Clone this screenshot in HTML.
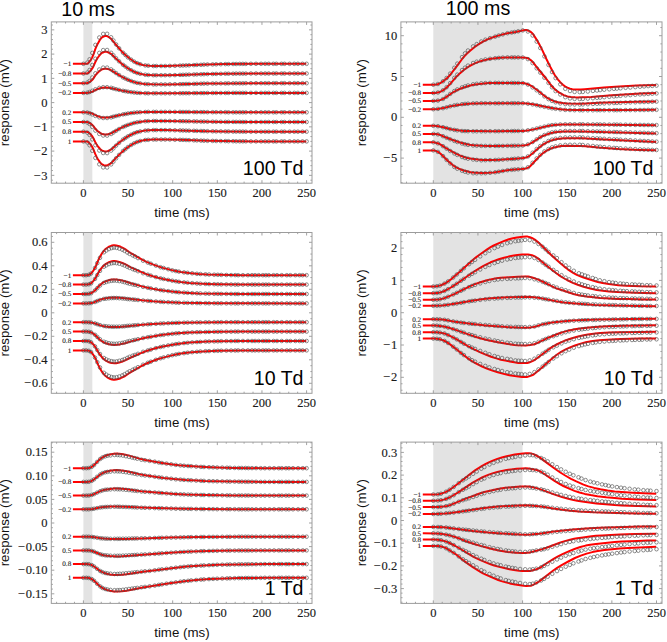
<!DOCTYPE html>
<html><head><meta charset="utf-8"><style>
html,body{margin:0;padding:0;background:#fff;}
svg{display:block;}
.tl{font-family:"Liberation Serif",serif;font-size:12.5px;fill:#1a1a1a;stroke:#1a1a1a;stroke-width:0.15px;}
.al{font-family:"Liberation Sans",sans-serif;font-size:13.3px;fill:#111;}
.yl{font-family:"Liberation Sans",sans-serif;font-size:13.3px;fill:#111;}
.td{font-family:"Liberation Sans",sans-serif;font-size:19.6px;fill:#000;}
.ti{font-family:"Liberation Sans",sans-serif;font-size:19.7px;fill:#000;}
.trl{font-family:"Liberation Serif",serif;font-size:6.9px;text-rendering:geometricPrecision;fill:#2a2a2a;stroke:#2a2a2a;stroke-width:0.12px;}
</style></head><body>
<svg width="667" height="642" viewBox="0 0 667 642">
<defs><marker id="c" markerWidth="6" markerHeight="6" refX="3" refY="3" markerUnits="userSpaceOnUse" overflow="visible"><circle cx="3" cy="3" r="1.8" fill="none" stroke="#505050" stroke-width="0.65"/></marker></defs>
<rect width="667" height="642" fill="#fff"/>
<rect x="83.4" y="21.9" width="8.93" height="161.3" fill="#e3e3e3"/>
<path d="M56.62 183.2v-1.6M56.62 21.9v1.6M65.54 183.2v-1.6M65.54 21.9v1.6M74.47 183.2v-1.6M74.47 21.9v1.6M83.4 183.2v-3M83.4 21.9v3M92.33 183.2v-1.6M92.33 21.9v1.6M101.26 183.2v-1.6M101.26 21.9v1.6M110.18 183.2v-1.6M110.18 21.9v1.6M119.11 183.2v-1.6M119.11 21.9v1.6M128.04 183.2v-3M128.04 21.9v3M136.97 183.2v-1.6M136.97 21.9v1.6M145.9 183.2v-1.6M145.9 21.9v1.6M154.82 183.2v-1.6M154.82 21.9v1.6M163.75 183.2v-1.6M163.75 21.9v1.6M172.68 183.2v-3M172.68 21.9v3M181.61 183.2v-1.6M181.61 21.9v1.6M190.54 183.2v-1.6M190.54 21.9v1.6M199.46 183.2v-1.6M199.46 21.9v1.6M208.39 183.2v-1.6M208.39 21.9v1.6M217.32 183.2v-3M217.32 21.9v3M226.25 183.2v-1.6M226.25 21.9v1.6M235.18 183.2v-1.6M235.18 21.9v1.6M244.1 183.2v-1.6M244.1 21.9v1.6M253.03 183.2v-1.6M253.03 21.9v1.6M261.96 183.2v-3M261.96 21.9v3M270.89 183.2v-1.6M270.89 21.9v1.6M279.82 183.2v-1.6M279.82 21.9v1.6M288.74 183.2v-1.6M288.74 21.9v1.6M297.67 183.2v-1.6M297.67 21.9v1.6M306.6 183.2v-3M306.6 21.9v3M51.3 180.2h1.6M312 180.2h-1.6M51.3 175.35h3M312 175.35h-3M51.3 170.5h1.6M312 170.5h-1.6M51.3 165.65h1.6M312 165.65h-1.6M51.3 160.8h1.6M312 160.8h-1.6M51.3 155.95h1.6M312 155.95h-1.6M51.3 151.1h3M312 151.1h-3M51.3 146.25h1.6M312 146.25h-1.6M51.3 141.4h1.6M312 141.4h-1.6M51.3 136.55h1.6M312 136.55h-1.6M51.3 131.7h1.6M312 131.7h-1.6M51.3 126.85h3M312 126.85h-3M51.3 122h1.6M312 122h-1.6M51.3 117.15h1.6M312 117.15h-1.6M51.3 112.3h1.6M312 112.3h-1.6M51.3 107.45h1.6M312 107.45h-1.6M51.3 102.6h3M312 102.6h-3M51.3 97.75h1.6M312 97.75h-1.6M51.3 92.9h1.6M312 92.9h-1.6M51.3 88.05h1.6M312 88.05h-1.6M51.3 83.2h1.6M312 83.2h-1.6M51.3 78.35h3M312 78.35h-3M51.3 73.5h1.6M312 73.5h-1.6M51.3 68.65h1.6M312 68.65h-1.6M51.3 63.8h1.6M312 63.8h-1.6M51.3 58.95h1.6M312 58.95h-1.6M51.3 54.1h3M312 54.1h-3M51.3 49.25h1.6M312 49.25h-1.6M51.3 44.4h1.6M312 44.4h-1.6M51.3 39.55h1.6M312 39.55h-1.6M51.3 34.7h1.6M312 34.7h-1.6M51.3 29.85h3M312 29.85h-3M51.3 25h1.6M312 25h-1.6" stroke="#8a8a8a" stroke-width="0.8" fill="none"/>
<rect x="51.3" y="21.9" width="260.7" height="161.3" fill="none" stroke="#9c9c9c" stroke-width="1"/>
<text x="47.6" y="179.5" class="tl" text-anchor="end">−<tspan dx="0.9">3</tspan></text>
<text x="47.6" y="155.25" class="tl" text-anchor="end">−<tspan dx="0.9">2</tspan></text>
<text x="47.6" y="131" class="tl" text-anchor="end">−<tspan dx="0.9">1</tspan></text>
<text x="47.6" y="106.75" class="tl" text-anchor="end">0</text>
<text x="47.6" y="82.5" class="tl" text-anchor="end">1</text>
<text x="47.6" y="58.25" class="tl" text-anchor="end">2</text>
<text x="47.6" y="34" class="tl" text-anchor="end">3</text>
<text x="83.4" y="197.2" class="tl" text-anchor="middle">0</text>
<text x="128.04" y="197.2" class="tl" text-anchor="middle">50</text>
<text x="172.68" y="197.2" class="tl" text-anchor="middle">100</text>
<text x="217.32" y="197.2" class="tl" text-anchor="middle">150</text>
<text x="261.96" y="197.2" class="tl" text-anchor="middle">200</text>
<text x="306.6" y="197.2" class="tl" text-anchor="middle">250</text>
<text x="181.9" y="217.2" class="al" text-anchor="middle">time (ms)</text>
<text transform="translate(8.9 102.55) rotate(-90)" class="yl" text-anchor="middle">response (mV)</text>
<text x="303.5" y="174.9" class="td" text-anchor="end">100 Td</text>
<g fill="none" stroke="#ff0000" stroke-width="2" stroke-linejoin="round"><path d="M72.9 63.8L86.3 63.8L87.6 63.6L88 63.3L88.9 62.4L90.3 60.7L91.2 59.3L92.1 57.6L93.4 54.7L95.2 49.4L96.5 46.2L97.9 43.4L100.1 39.6L101.4 37.9L102.3 37.2L103.7 36.5L104.6 36.1L105.9 35.9L106.8 36.1L108.1 36.7L110.4 38.3L111.3 39.1L112.6 40.6L115.3 44L121.5 51.2L126 55.5L129.6 58.5L133.6 61.3L135.4 62.3L136.7 63L141.2 64.5L142.9 65L144.7 65.3L149.2 65.8L152.8 66L165.7 66L180 65.6L206.8 64.5L224.2 64.1L255.4 63.8L306.3 63.8"/><path d="M72.9 73.5L86.3 73.5L87.6 73.3L88 73.1L88.9 72.4L90.3 71.1L92.1 68.7L93.4 66.4L95.2 62.3L96.5 59.7L97.9 57.5L100.1 54.6L101.4 53.2L102.3 52.7L104.6 51.8L105.9 51.7L106.8 51.8L108.1 52.3L110.4 53.5L111.3 54.1L112.6 55.3L115.3 58L121.5 63.6L126 67L129.6 69.4L133.6 71.5L136.7 72.8L141.2 74.1L144.7 74.7L149.2 75L152.8 75.2L165.7 75.2L180 74.9L206.8 74.1L224.2 73.7L255.4 73.5L306.3 73.5"/><path d="M72.9 83.2L86.3 83.2L87.6 83.1L88 83L88.9 82.5L90.3 81.6L92.1 80L93.4 78.5L95.2 75.7L96.5 74L97.9 72.5L100.1 70.6L101.4 69.7L102.3 69.3L104.6 68.8L105.9 68.7L106.8 68.7L108.1 69.1L110.4 69.9L111.3 70.3L115.3 72.9L121.5 76.6L126 78.9L129.6 80.5L133.6 81.9L136.7 82.8L141.2 83.6L144.7 84L152.8 84.3L165.7 84.4L180 84.2L206.8 83.6L224.2 83.4L255.4 83.2L306.3 83.2"/><path d="M72.9 92.9L86.3 92.9L88 92.8L90.3 92.3L92.1 91.7L93.4 91.2L95.2 90.2L96.5 89.5L97.9 89L100.1 88.3L102.3 87.8L105.9 87.6L108.1 87.7L111.3 88.2L121.5 90.5L129.6 91.9L136.7 92.7L144.7 93.2L152.8 93.3L165.7 93.3L224.2 93L306.3 92.9"/><path d="M72.9 112.3L86.3 112.3L88 112.4L90.3 112.9L92.1 113.5L93.4 114L95.2 115L96.5 115.7L97.9 116.2L100.1 116.9L102.3 117.4L105.9 117.6L108.1 117.5L111.3 117L121.5 114.7L129.6 113.3L136.7 112.5L144.7 112L152.8 111.9L165.7 111.9L224.2 112.2L306.3 112.3"/><path d="M72.9 122L86.3 122L87.6 122.1L88 122.2L90.3 123.4L92.1 124.8L93.4 126.1L95.2 128.5L96.5 130L97.9 131.2L100.1 132.9L101.4 133.7L102.3 134L104.6 134.5L105.9 134.6L106.8 134.5L108.1 134.2L111.3 133.2L115.3 131L121.5 127.7L126 125.7L129.6 124.4L133.6 123.1L136.7 122.4L141.2 121.7L144.7 121.3L152.8 121L165.7 121L224.2 121.9L255.4 122L306.3 122"/><path d="M72.9 131.7L86.3 131.7L87.6 131.9L88 132L88.9 132.7L90.3 133.9L92.1 136.1L93.4 138.2L95.2 141.9L96.5 144.3L97.9 146.3L100.1 149L101.4 150.2L102.3 150.7L104.6 151.4L105.9 151.6L106.8 151.4L108.1 151L110.4 149.9L111.3 149.3L112.6 148.3L115.3 145.8L121.5 140.7L126 137.6L129.6 135.4L133.6 133.5L136.7 132.3L141.2 131.2L144.7 130.6L152.8 130.1L165.7 130.1L180 130.4L206.8 131.2L224.2 131.5L255.4 131.7L306.3 131.7"/><path d="M72.9 141.4L86.3 141.4L87.6 141.6L88 141.8L88.9 142.6L90.3 144.1L91.2 145.3L92.1 146.8L93.4 149.3L95.2 153.9L96.5 156.7L97.9 159.2L100.1 162.4L101.4 163.9L102.3 164.5L103.7 165.2L104.6 165.5L105.9 165.6L106.8 165.5L108.1 164.9L110.4 163.6L111.3 162.9L112.6 161.6L115.3 158.6L121.5 152.4L126 148.6L129.6 146L133.6 143.6L136.7 142.1L141.2 140.8L142.9 140.4L144.7 140.1L149.2 139.7L152.8 139.5L165.7 139.5L180 139.8L206.8 140.8L224.2 141.1L255.4 141.4L306.3 141.4"/></g>
<g fill="none" stroke="none" marker-start="url(#c)" marker-mid="url(#c)" marker-end="url(#c)"><path d="M83.4 63.8L87.3 62.6L89.6 59.3L92.3 52.9L95.4 44.9L99.3 37.5L103.2 33.9L107.1 33.8L111.1 37.3L113.4 40.5L116.1 44.4L119.1 48.3L123 52.7L125.4 55L128 57.4L131.1 59.6L134.1 61.6L137.1 63.1L140.2 64.2L145.3 65.4L148.3 65.7L153.4 66L156.4 66L161.1 66L165.2 66L169.8 65.9L174.9 65.8L180 65.6L183 65.5L186.1 65.4L189.1 65.3L193.8 65.1L196.8 64.9L200.9 64.8L203.9 64.6L207.5 64.5L212.6 64.4L216.2 64.3L220.8 64.2L225.4 64.1L228.5 64.1L233.1 64L236.2 64L239.7 63.9L242.8 63.9L245.8 63.9L250.9 63.8L256 63.8L261.1 63.8L265.2 63.8L268.7 63.8L273.4 63.8L276.4 63.8L281.5 63.8L284.5 63.8L289.6 63.8L294.3 63.8L297.9 63.8L302.5 63.8L306.6 63.8"/><path d="M83.4 73.5L87.3 72.6L89.6 70L92.3 65L95.4 58.7L99.3 52.9L103.2 50.1L107.1 50L111.1 52.8L113.4 55.3L116.1 58.3L119.1 61.3L123 64.8L125.4 66.6L128 68.5L131.1 70.2L134.1 71.8L137.1 73L140.2 73.8L145.3 74.7L148.3 75L153.4 75.2L156.4 75.2L161.1 75.2L165.2 75.2L169.8 75.2L174.9 75.1L180 74.9L183 74.8L186.1 74.7L189.1 74.6L193.8 74.5L196.8 74.4L200.9 74.3L203.9 74.2L207.5 74.1L212.6 74L216.2 73.9L220.8 73.8L225.4 73.7L228.5 73.7L233.1 73.7L236.2 73.6L239.7 73.6L242.8 73.6L245.8 73.6L250.9 73.5L256 73.5L261.1 73.5L265.2 73.5L268.7 73.5L273.4 73.5L276.4 73.5L281.5 73.5L284.5 73.5L289.6 73.5L294.3 73.5L297.9 73.5L302.5 73.5L306.6 73.5"/><path d="M83.4 83.2L87.3 82.6L89.6 80.9L92.3 77.5L95.4 73.3L99.3 69.5L103.2 67.6L107.1 67.6L111.1 69.4L113.4 71.1L116.1 73.1L119.1 75.1L123 77.4L125.4 78.6L128 79.8L131.1 81L134.1 82.1L137.1 82.9L140.2 83.4L145.3 84L148.3 84.2L153.4 84.4L156.4 84.4L161.1 84.4L165.2 84.4L169.8 84.3L174.9 84.2L180 84.2L183 84.1L186.1 84L189.1 84L193.8 83.9L196.8 83.8L200.9 83.7L203.9 83.6L207.5 83.6L212.6 83.5L216.2 83.5L220.8 83.4L225.4 83.4L228.5 83.3L233.1 83.3L236.2 83.3L239.7 83.3L242.8 83.3L245.8 83.2L250.9 83.2L256 83.2L261.1 83.2L265.2 83.2L268.7 83.2L273.4 83.2L276.4 83.2L281.5 83.2L284.5 83.2L289.6 83.2L294.3 83.2L297.9 83.2L302.5 83.2L306.6 83.2"/><path d="M83.4 92.9L87.3 92.7L89.6 92L92.3 90.8L95.4 89.3L99.3 87.9L103.2 87.2L107.1 87.2L111.1 87.8L113.4 88.5L116.1 89.2L119.1 89.9L123 90.8L125.4 91.2L128 91.7L131.1 92.1L134.1 92.5L137.1 92.8L140.2 93L145.3 93.2L148.3 93.3L153.4 93.3L156.4 93.3L161.1 93.3L165.2 93.3L169.8 93.3L174.9 93.3L180 93.3L183 93.2L186.1 93.2L189.1 93.2L193.8 93.1L196.8 93.1L200.9 93.1L203.9 93.1L207.5 93L212.6 93L216.2 93L220.8 93L225.4 93L228.5 92.9L233.1 92.9L236.2 92.9L239.7 92.9L242.8 92.9L245.8 92.9L250.9 92.9L256 92.9L261.1 92.9L265.2 92.9L268.7 92.9L273.4 92.9L276.4 92.9L281.5 92.9L284.5 92.9L289.6 92.9L294.3 92.9L297.9 92.9L302.5 92.9L306.6 92.9"/><path d="M83.4 112.3L87.3 112.5L89.6 113.2L92.3 114.4L95.4 115.9L99.3 117.3L103.2 118L107.1 118L111.1 117.4L113.4 116.7L116.1 116L119.1 115.3L123 114.4L125.4 114L128 113.5L131.1 113.1L134.1 112.7L137.1 112.4L140.2 112.2L145.3 112L148.3 111.9L153.4 111.9L156.4 111.9L161.1 111.9L165.2 111.9L169.8 111.9L174.9 111.9L180 111.9L183 112L186.1 112L189.1 112L193.8 112.1L196.8 112.1L200.9 112.1L203.9 112.1L207.5 112.2L212.6 112.2L216.2 112.2L220.8 112.2L225.4 112.2L228.5 112.3L233.1 112.3L236.2 112.3L239.7 112.3L242.8 112.3L245.8 112.3L250.9 112.3L256 112.3L261.1 112.3L265.2 112.3L268.7 112.3L273.4 112.3L276.4 112.3L281.5 112.3L284.5 112.3L289.6 112.3L294.3 112.3L297.9 112.3L302.5 112.3L306.6 112.3"/><path d="M83.4 122L87.3 122.5L89.6 124L92.3 126.9L95.4 130.6L99.3 133.9L103.2 135.5L107.1 135.6L111.1 134L113.4 132.5L116.1 130.8L119.1 129L123 127L125.4 126L128 124.9L131.1 123.9L134.1 123L137.1 122.3L140.2 121.8L145.3 121.3L148.3 121.1L153.4 121L156.4 121L161.1 121L165.2 121L169.8 121L174.9 121.1L180 121.2L183 121.2L186.1 121.3L189.1 121.3L193.8 121.4L196.8 121.5L200.9 121.6L203.9 121.6L207.5 121.7L212.6 121.7L216.2 121.8L220.8 121.8L225.4 121.9L228.5 121.9L233.1 121.9L236.2 121.9L239.7 121.9L242.8 122L245.8 122L250.9 122L256 122L261.1 122L265.2 122L268.7 122L273.4 122L276.4 122L281.5 122L284.5 122L289.6 122L294.3 122L297.9 122L302.5 122L306.6 122"/><path d="M83.4 131.7L87.3 132.6L89.6 134.9L92.3 139.4L95.4 145.2L99.3 150.5L103.2 153L107.1 153.1L111.1 150.6L113.4 148.3L116.1 145.6L119.1 142.8L123 139.6L125.4 138L128 136.3L131.1 134.7L134.1 133.3L137.1 132.2L140.2 131.4L145.3 130.6L148.3 130.4L153.4 130.1L156.4 130.1L161.1 130.1L165.2 130.1L169.8 130.2L174.9 130.3L180 130.4L183 130.5L186.1 130.6L189.1 130.7L193.8 130.8L196.8 130.9L200.9 131L203.9 131.1L207.5 131.2L212.6 131.3L216.2 131.4L220.8 131.4L225.4 131.5L228.5 131.5L233.1 131.6L236.2 131.6L239.7 131.6L242.8 131.6L245.8 131.7L250.9 131.7L256 131.7L261.1 131.7L265.2 131.7L268.7 131.7L273.4 131.7L276.4 131.7L281.5 131.7L284.5 131.7L289.6 131.7L294.3 131.7L297.9 131.7L302.5 131.7L306.6 131.7"/><path d="M83.4 141.4L87.3 142.4L89.6 145.3L92.3 150.8L95.4 157.9L99.3 164.3L103.2 167.4L107.1 167.5L111.1 164.4L113.4 161.6L116.1 158.3L119.1 154.9L123 151L125.4 149.1L128 147L131.1 145L134.1 143.3L137.1 142L140.2 141L145.3 140L148.3 139.8L153.4 139.5L156.4 139.5L161.1 139.5L165.2 139.5L169.8 139.5L174.9 139.7L180 139.8L183 139.9L186.1 140L189.1 140.1L193.8 140.3L196.8 140.4L200.9 140.6L203.9 140.7L207.5 140.8L212.6 140.9L216.2 141L220.8 141.1L225.4 141.1L228.5 141.2L233.1 141.2L236.2 141.3L239.7 141.3L242.8 141.3L245.8 141.3L250.9 141.4L256 141.4L261.1 141.4L265.2 141.4L268.7 141.4L273.4 141.4L276.4 141.4L281.5 141.4L284.5 141.4L289.6 141.4L294.3 141.4L297.9 141.4L302.5 141.4L306.6 141.4"/></g>
<text transform="translate(71.26 66.2) scale(1.04 1)" class="trl" text-anchor="end">−1</text>
<text transform="translate(71.26 75.9) scale(1.04 1)" class="trl" text-anchor="end">−0.8</text>
<text transform="translate(71.26 85.6) scale(1.04 1)" class="trl" text-anchor="end">−0.5</text>
<text transform="translate(71.26 95.3) scale(1.04 1)" class="trl" text-anchor="end">−0.2</text>
<text transform="translate(71.26 114.7) scale(1.04 1)" class="trl" text-anchor="end">0.2</text>
<text transform="translate(71.26 124.4) scale(1.04 1)" class="trl" text-anchor="end">0.5</text>
<text transform="translate(71.26 134.1) scale(1.04 1)" class="trl" text-anchor="end">0.8</text>
<text transform="translate(71.26 143.8) scale(1.04 1)" class="trl" text-anchor="end">1</text>
<rect x="83.4" y="232.5" width="8.93" height="160.8" fill="#e3e3e3"/>
<path d="M56.62 393.3v-1.6M56.62 232.5v1.6M65.54 393.3v-1.6M65.54 232.5v1.6M74.47 393.3v-1.6M74.47 232.5v1.6M83.4 393.3v-3M83.4 232.5v3M92.33 393.3v-1.6M92.33 232.5v1.6M101.26 393.3v-1.6M101.26 232.5v1.6M110.18 393.3v-1.6M110.18 232.5v1.6M119.11 393.3v-1.6M119.11 232.5v1.6M128.04 393.3v-3M128.04 232.5v3M136.97 393.3v-1.6M136.97 232.5v1.6M145.9 393.3v-1.6M145.9 232.5v1.6M154.82 393.3v-1.6M154.82 232.5v1.6M163.75 393.3v-1.6M163.75 232.5v1.6M172.68 393.3v-3M172.68 232.5v3M181.61 393.3v-1.6M181.61 232.5v1.6M190.54 393.3v-1.6M190.54 232.5v1.6M199.46 393.3v-1.6M199.46 232.5v1.6M208.39 393.3v-1.6M208.39 232.5v1.6M217.32 393.3v-3M217.32 232.5v3M226.25 393.3v-1.6M226.25 232.5v1.6M235.18 393.3v-1.6M235.18 232.5v1.6M244.1 393.3v-1.6M244.1 232.5v1.6M253.03 393.3v-1.6M253.03 232.5v1.6M261.96 393.3v-3M261.96 232.5v3M270.89 393.3v-1.6M270.89 232.5v1.6M279.82 393.3v-1.6M279.82 232.5v1.6M288.74 393.3v-1.6M288.74 232.5v1.6M297.67 393.3v-1.6M297.67 232.5v1.6M306.6 393.3v-3M306.6 232.5v3M51.3 389.18h1.6M312 389.18h-1.6M51.3 383.3h3M312 383.3h-3M51.3 377.43h1.6M312 377.43h-1.6M51.3 371.55h1.6M312 371.55h-1.6M51.3 365.68h1.6M312 365.68h-1.6M51.3 359.8h3M312 359.8h-3M51.3 353.93h1.6M312 353.93h-1.6M51.3 348.05h1.6M312 348.05h-1.6M51.3 342.18h1.6M312 342.18h-1.6M51.3 336.3h3M312 336.3h-3M51.3 330.43h1.6M312 330.43h-1.6M51.3 324.55h1.6M312 324.55h-1.6M51.3 318.68h1.6M312 318.68h-1.6M51.3 312.8h3M312 312.8h-3M51.3 306.93h1.6M312 306.93h-1.6M51.3 301.05h1.6M312 301.05h-1.6M51.3 295.18h1.6M312 295.18h-1.6M51.3 289.3h3M312 289.3h-3M51.3 283.43h1.6M312 283.43h-1.6M51.3 277.55h1.6M312 277.55h-1.6M51.3 271.68h1.6M312 271.68h-1.6M51.3 265.8h3M312 265.8h-3M51.3 259.93h1.6M312 259.93h-1.6M51.3 254.05h1.6M312 254.05h-1.6M51.3 248.18h1.6M312 248.18h-1.6M51.3 242.3h3M312 242.3h-3M51.3 236.43h1.6M312 236.43h-1.6" stroke="#8a8a8a" stroke-width="0.8" fill="none"/>
<rect x="51.3" y="232.5" width="260.7" height="160.8" fill="none" stroke="#9c9c9c" stroke-width="1"/>
<text x="47.6" y="387.45" class="tl" text-anchor="end">−<tspan dx="0.9">0.6</tspan></text>
<text x="47.6" y="363.95" class="tl" text-anchor="end">−<tspan dx="0.9">0.4</tspan></text>
<text x="47.6" y="340.45" class="tl" text-anchor="end">−<tspan dx="0.9">0.2</tspan></text>
<text x="47.6" y="316.95" class="tl" text-anchor="end">0</text>
<text x="47.6" y="293.45" class="tl" text-anchor="end">0.2</text>
<text x="47.6" y="269.95" class="tl" text-anchor="end">0.4</text>
<text x="47.6" y="246.45" class="tl" text-anchor="end">0.6</text>
<text x="83.4" y="407.3" class="tl" text-anchor="middle">0</text>
<text x="128.04" y="407.3" class="tl" text-anchor="middle">50</text>
<text x="172.68" y="407.3" class="tl" text-anchor="middle">100</text>
<text x="217.32" y="407.3" class="tl" text-anchor="middle">150</text>
<text x="261.96" y="407.3" class="tl" text-anchor="middle">200</text>
<text x="306.6" y="407.3" class="tl" text-anchor="middle">250</text>
<text x="181.9" y="427.3" class="al" text-anchor="middle">time (ms)</text>
<text transform="translate(8.9 312.9) rotate(-90)" class="yl" text-anchor="middle">response (mV)</text>
<text x="303.5" y="385" class="td" text-anchor="end">10 Td</text>
<g fill="none" stroke="#ff0000" stroke-width="2" stroke-linejoin="round"><path d="M72.9 275.2L87.1 275.2L88.9 274.8L89.8 274.4L90.7 273.8L92.1 272.4L93.4 270.5L94.3 269.1L96.1 265.5L98.3 260.2L99.6 257.4L101.9 253.5L103.7 251L105 249.6L105.9 248.8L107.7 247.5L109 246.7L110.4 246.1L112.1 245.5L113.5 245.3L114.4 245.2L116.2 245.5L119.3 246.3L120.6 246.8L122.4 247.6L125.1 249.1L129.1 252L130.9 253.1L142.1 259.6L146.5 261.8L152.8 264.4L158.1 266.4L163 267.9L173.8 270.6L176.9 271.2L180.9 271.9L188.9 273L198.7 273.9L207.2 274.4L218.4 274.8L241.6 275.2L306.3 275.2"/><path d="M72.9 284.6L87.1 284.6L88.9 284.3L89.8 283.9L90.7 283.5L92.1 282.4L93.4 280.9L94.3 279.8L96.1 277L98.3 272.8L99.6 270.7L101.9 267.6L103.7 265.6L105.9 263.9L107.7 262.9L109 262.2L110.4 261.8L112.1 261.3L113.5 261.1L114.4 261.1L116.2 261.3L119.3 262L122.4 263L125.1 264.2L129.1 266.4L130.9 267.3L142.1 272.4L146.5 274.1L152.8 276.2L158.1 277.7L163 278.9L173.8 281L180.9 282L188.9 282.9L198.7 283.6L207.2 284L218.4 284.3L241.6 284.6L306.3 284.6"/><path d="M72.9 294L87.1 294L88.9 293.8L90.7 293.3L92.1 292.6L94.3 291L96.1 289.3L98.3 286.7L99.6 285.4L101.9 283.4L103.7 282.2L105.9 281.2L109 280.1L112.1 279.6L114.4 279.4L116.2 279.5L119.3 280L122.4 280.6L125.1 281.3L130.9 283.2L142.1 286.4L146.5 287.5L152.8 288.8L158.1 289.7L163 290.4L173.8 291.8L180.9 292.4L188.9 292.9L198.7 293.4L218.4 293.8L241.6 294L306.3 294"/><path d="M72.9 303.4L87.1 303.4L90.7 303.1L92.1 302.9L94.3 302.2L99.6 299.9L101.9 299.1L103.7 298.7L105.9 298.2L109 297.8L114.4 297.5L119.3 297.7L122.4 298L142.1 300.3L152.8 301.3L163 302L180.9 302.8L198.7 303.1L218.4 303.3L306.3 303.4"/><path d="M72.9 322.2L87.1 322.2L90.7 322.4L92.1 322.7L94.3 323.2L99.6 325.1L101.9 325.8L103.7 326.2L105.9 326.6L109 326.9L114.4 327.1L119.3 327L122.4 326.7L142.1 324.8L152.8 324L163 323.4L180.9 322.7L198.7 322.4L218.4 322.3L306.3 322.2"/><path d="M72.9 331.6L87.1 331.6L88.9 331.8L90.7 332.2L92.1 332.8L94.3 334.3L96.1 335.9L98.3 338.3L99.6 339.5L101.9 341.2L103.7 342.3L105.9 343.3L109 344.2L112.1 344.7L114.4 344.9L116.2 344.8L119.3 344.4L122.4 343.8L125.1 343.2L130.9 341.4L142.1 338.5L146.5 337.5L152.8 336.4L158.1 335.5L163 334.8L173.8 333.6L180.9 333.1L188.9 332.6L198.7 332.2L218.4 331.8L241.6 331.6L306.3 331.6"/><path d="M72.9 341L87.1 341L88.9 341.3L89.8 341.6L90.7 342.1L92.1 343.1L93.4 344.5L94.3 345.6L96.1 348.2L98.3 352.2L99.6 354.2L101.9 357.2L103.7 359L105.9 360.7L109 362.3L110.4 362.7L112.1 363.1L114.4 363.3L116.2 363.2L119.3 362.5L122.4 361.5L125.1 360.4L130.9 357.5L142.1 352.6L146.5 351L152.8 349L158.1 347.5L163 346.4L173.8 344.4L180.9 343.4L188.9 342.6L198.7 342L207.2 341.6L218.4 341.3L241.6 341L306.3 341"/><path d="M72.9 350.4L87.1 350.4L88.9 350.8L89.8 351.2L90.7 351.8L92.1 353.1L93.4 355L94.3 356.4L96.1 359.9L98.3 365.1L99.6 367.8L101.9 371.7L103.7 374.1L105 375.5L105.9 376.3L107.7 377.6L109 378.4L110.4 379L112.1 379.5L113.5 379.7L114.4 379.8L116.2 379.5L119.3 378.7L120.6 378.2L122.4 377.4L125.1 376L129.1 373.2L130.9 372.1L142.1 365.7L146.5 363.5L152.8 361L158.1 359L163 357.6L173.8 354.9L176.9 354.3L180.9 353.6L188.9 352.6L198.7 351.7L207.2 351.2L218.4 350.8L241.6 350.4L306.3 350.4"/></g>
<g fill="none" stroke="none" marker-start="url(#c)" marker-mid="url(#c)" marker-end="url(#c)"><path d="M83.4 275.2L86.1 275.2L88.8 274.8L91.1 273.5L95 267.9L97.3 263.1L100 257.8L103.9 252.3L106.3 250.5L108.9 249.1L111.6 248.1L113.9 247.6L116.6 247.9L119.3 248.6L122.3 249.7L124.6 250.9L127.3 252.5L129.6 253.9L132.7 255.4L135 256.5L138 258.1L143.1 260.7L147.8 262.6L150.8 263.7L155.9 265.6L160.5 267.2L163.6 268L168.2 269.2L172.3 270.3L175.9 271.1L178.9 271.6L184 272.4L187.6 272.8L192.2 273.3L196.9 273.8L200.4 274L205.5 274.3L209.1 274.5L214.2 274.7L217.8 274.8L221.3 274.9L226.4 275L231.1 275.1L235.2 275.1L238.2 275.2L242.9 275.2L247.9 275.2L252 275.2L255.1 275.2L258.7 275.2L262.8 275.2L265.8 275.2L268.8 275.2L273.5 275.2L277 275.2L281.7 275.2L286.8 275.2L290.4 275.2L295.4 275.2L299.5 275.2L302.6 275.2L306.6 275.2"/><path d="M83.4 284.6L86.1 284.6L88.8 284.3L91.1 283.3L95 278.9L97.3 275.1L100 270.9L103.9 266.7L106.3 265.3L108.9 264.1L111.6 263.3L113.9 263L116.6 263.2L119.3 263.7L122.3 264.6L124.6 265.5L127.3 266.8L129.6 267.9L132.7 269.1L135 270L138 271.2L143.1 273.2L147.8 274.7L150.8 275.6L155.9 277.1L160.5 278.3L163.6 279L168.2 279.9L172.3 280.7L175.9 281.3L178.9 281.8L184 282.4L187.6 282.7L192.2 283.1L196.9 283.5L200.4 283.7L205.5 283.9L209.1 284.1L214.2 284.2L217.8 284.3L221.3 284.4L226.4 284.4L231.1 284.5L235.2 284.6L238.2 284.6L242.9 284.6L247.9 284.6L252 284.6L255.1 284.6L258.7 284.6L262.8 284.6L265.8 284.6L268.8 284.6L273.5 284.6L277 284.6L281.7 284.6L286.8 284.6L290.4 284.6L295.4 284.6L299.5 284.6L302.6 284.6L306.6 284.6"/><path d="M83.4 294L86.1 294L88.8 293.8L91.1 293.2L95 290.4L97.3 288.1L100 285.5L103.9 282.9L106.3 282L108.9 281.3L111.6 280.8L113.9 280.6L116.6 280.7L119.3 281.1L122.3 281.6L124.6 282.2L127.3 283L129.6 283.7L132.7 284.4L135 284.9L138 285.7L143.1 286.9L147.8 287.8L150.8 288.4L155.9 289.3L160.5 290.1L163.6 290.5L168.2 291.1L172.3 291.6L175.9 292L178.9 292.3L184 292.6L187.6 292.8L192.2 293.1L196.9 293.3L200.4 293.4L205.5 293.6L209.1 293.7L214.2 293.8L217.8 293.8L221.3 293.9L226.4 293.9L231.1 293.9L235.2 294L238.2 294L242.9 294L247.9 294L252 294L255.1 294L258.7 294L262.8 294L265.8 294L268.8 294L273.5 294L277 294L281.7 294L286.8 294L290.4 294L295.4 294L299.5 294L302.6 294L306.6 294"/><path d="M83.4 303.4L86.1 303.4L88.8 303.3L91.1 303.1L95 302L97.3 301L100 300L103.9 298.9L106.3 298.6L108.9 298.3L111.6 298.1L113.9 298L116.6 298L119.3 298.2L122.3 298.4L124.6 298.6L127.3 299L129.6 299.2L132.7 299.5L135 299.7L138 300L143.1 300.5L147.8 300.9L150.8 301.1L155.9 301.5L160.5 301.8L163.6 302L168.2 302.2L172.3 302.4L175.9 302.6L178.9 302.7L184 302.8L187.6 302.9L192.2 303L196.9 303.1L200.4 303.2L205.5 303.2L209.1 303.3L214.2 303.3L217.8 303.3L221.3 303.3L226.4 303.4L231.1 303.4L235.2 303.4L238.2 303.4L242.9 303.4L247.9 303.4L252 303.4L255.1 303.4L258.7 303.4L262.8 303.4L265.8 303.4L268.8 303.4L273.5 303.4L277 303.4L281.7 303.4L286.8 303.4L290.4 303.4L295.4 303.4L299.5 303.4L302.6 303.4L306.6 303.4"/><path d="M83.4 322.2L86.1 322.2L88.8 322.3L91.1 322.5L95 323.4L97.3 324.2L100 325.1L103.9 326L106.3 326.3L108.9 326.5L111.6 326.7L113.9 326.7L116.6 326.7L119.3 326.6L122.3 326.4L124.6 326.2L127.3 325.9L129.6 325.7L132.7 325.5L135 325.3L138 325L143.1 324.6L147.8 324.3L150.8 324.1L155.9 323.8L160.5 323.5L163.6 323.4L168.2 323.2L172.3 323L175.9 322.9L178.9 322.8L184 322.7L187.6 322.6L192.2 322.5L196.9 322.4L200.4 322.4L205.5 322.3L209.1 322.3L214.2 322.3L217.8 322.3L221.3 322.2L226.4 322.2L231.1 322.2L235.2 322.2L238.2 322.2L242.9 322.2L247.9 322.2L252 322.2L255.1 322.2L258.7 322.2L262.8 322.2L265.8 322.2L268.8 322.2L273.5 322.2L277 322.2L281.7 322.2L286.8 322.2L290.4 322.2L295.4 322.2L299.5 322.2L302.6 322.2L306.6 322.2"/><path d="M83.4 331.6L86.1 331.6L88.8 331.8L91.1 332.4L95 334.8L97.3 337L100 339.3L103.9 341.7L106.3 342.5L108.9 343.2L111.6 343.6L113.9 343.8L116.6 343.7L119.3 343.4L122.3 342.9L124.6 342.4L127.3 341.6L129.6 341L132.7 340.4L135 339.9L138 339.2L143.1 338L147.8 337.2L150.8 336.7L155.9 335.8L160.5 335.1L163.6 334.8L168.2 334.2L172.3 333.8L175.9 333.4L178.9 333.2L184 332.9L187.6 332.6L192.2 332.4L196.9 332.2L200.4 332.1L205.5 332L209.1 331.9L214.2 331.8L217.8 331.8L221.3 331.7L226.4 331.7L231.1 331.7L235.2 331.6L238.2 331.6L242.9 331.6L247.9 331.6L252 331.6L255.1 331.6L258.7 331.6L262.8 331.6L265.8 331.6L268.8 331.6L273.5 331.6L277 331.6L281.7 331.6L286.8 331.6L290.4 331.6L295.4 331.6L299.5 331.6L302.6 331.6L306.6 331.6"/><path d="M83.4 341L86.1 341L88.8 341.3L91.1 342.3L95 346.4L97.3 350L100 354L103.9 358L106.3 359.4L108.9 360.5L111.6 361.2L113.9 361.6L116.6 361.4L119.3 360.8L122.3 360L124.6 359.1L127.3 357.9L129.6 356.8L132.7 355.7L135 354.9L138 353.8L143.1 351.8L147.8 350.4L150.8 349.6L155.9 348.1L160.5 347L163.6 346.3L168.2 345.4L172.3 344.7L175.9 344.1L178.9 343.7L184 343.1L187.6 342.8L192.2 342.4L196.9 342.1L200.4 341.9L205.5 341.6L209.1 341.5L214.2 341.4L217.8 341.3L221.3 341.2L226.4 341.1L231.1 341.1L235.2 341L238.2 341L242.9 341L247.9 341L252 341L255.1 341L258.7 341L262.8 341L265.8 341L268.8 341L273.5 341L277 341L281.7 341L286.8 341L290.4 341L295.4 341L299.5 341L302.6 341L306.6 341"/><path d="M83.4 350.4L86.1 350.4L88.8 350.8L91.1 352.1L95 357.6L97.3 362.2L100 367.5L103.9 372.8L106.3 374.6L108.9 376L111.6 377L113.9 377.4L116.6 377.2L119.3 376.5L122.3 375.4L124.6 374.2L127.3 372.6L129.6 371.3L132.7 369.8L135 368.7L138 367.2L143.1 364.7L147.8 362.8L150.8 361.7L155.9 359.8L160.5 358.3L163.6 357.4L168.2 356.2L172.3 355.2L175.9 354.5L178.9 353.9L184 353.2L187.6 352.7L192.2 352.2L196.9 351.8L200.4 351.5L205.5 351.2L209.1 351.1L214.2 350.9L217.8 350.8L221.3 350.7L226.4 350.6L231.1 350.5L235.2 350.5L238.2 350.4L242.9 350.4L247.9 350.4L252 350.4L255.1 350.4L258.7 350.4L262.8 350.4L265.8 350.4L268.8 350.4L273.5 350.4L277 350.4L281.7 350.4L286.8 350.4L290.4 350.4L295.4 350.4L299.5 350.4L302.6 350.4L306.6 350.4"/></g>
<text transform="translate(71.26 277.6) scale(1.04 1)" class="trl" text-anchor="end">−1</text>
<text transform="translate(71.26 287) scale(1.04 1)" class="trl" text-anchor="end">−0.8</text>
<text transform="translate(71.26 296.4) scale(1.04 1)" class="trl" text-anchor="end">−0.5</text>
<text transform="translate(71.26 305.8) scale(1.04 1)" class="trl" text-anchor="end">−0.2</text>
<text transform="translate(71.26 324.6) scale(1.04 1)" class="trl" text-anchor="end">0.2</text>
<text transform="translate(71.26 334) scale(1.04 1)" class="trl" text-anchor="end">0.5</text>
<text transform="translate(71.26 343.4) scale(1.04 1)" class="trl" text-anchor="end">0.8</text>
<text transform="translate(71.26 352.8) scale(1.04 1)" class="trl" text-anchor="end">1</text>
<rect x="83.4" y="442.1" width="8.93" height="161.3" fill="#e3e3e3"/>
<path d="M56.62 603.4v-1.6M56.62 442.1v1.6M65.54 603.4v-1.6M65.54 442.1v1.6M74.47 603.4v-1.6M74.47 442.1v1.6M83.4 603.4v-3M83.4 442.1v3M92.33 603.4v-1.6M92.33 442.1v1.6M101.26 603.4v-1.6M101.26 442.1v1.6M110.18 603.4v-1.6M110.18 442.1v1.6M119.11 603.4v-1.6M119.11 442.1v1.6M128.04 603.4v-3M128.04 442.1v3M136.97 603.4v-1.6M136.97 442.1v1.6M145.9 603.4v-1.6M145.9 442.1v1.6M154.82 603.4v-1.6M154.82 442.1v1.6M163.75 603.4v-1.6M163.75 442.1v1.6M172.68 603.4v-3M172.68 442.1v3M181.61 603.4v-1.6M181.61 442.1v1.6M190.54 603.4v-1.6M190.54 442.1v1.6M199.46 603.4v-1.6M199.46 442.1v1.6M208.39 603.4v-1.6M208.39 442.1v1.6M217.32 603.4v-3M217.32 442.1v3M226.25 603.4v-1.6M226.25 442.1v1.6M235.18 603.4v-1.6M235.18 442.1v1.6M244.1 603.4v-1.6M244.1 442.1v1.6M253.03 603.4v-1.6M253.03 442.1v1.6M261.96 603.4v-3M261.96 442.1v3M270.89 603.4v-1.6M270.89 442.1v1.6M279.82 603.4v-1.6M279.82 442.1v1.6M288.74 603.4v-1.6M288.74 442.1v1.6M297.67 603.4v-1.6M297.67 442.1v1.6M306.6 603.4v-3M306.6 442.1v3M51.3 598.52h1.6M312 598.52h-1.6M51.3 593.8h3M312 593.8h-3M51.3 589.08h1.6M312 589.08h-1.6M51.3 584.36h1.6M312 584.36h-1.6M51.3 579.64h1.6M312 579.64h-1.6M51.3 574.92h1.6M312 574.92h-1.6M51.3 570.2h3M312 570.2h-3M51.3 565.48h1.6M312 565.48h-1.6M51.3 560.76h1.6M312 560.76h-1.6M51.3 556.04h1.6M312 556.04h-1.6M51.3 551.32h1.6M312 551.32h-1.6M51.3 546.6h3M312 546.6h-3M51.3 541.88h1.6M312 541.88h-1.6M51.3 537.16h1.6M312 537.16h-1.6M51.3 532.44h1.6M312 532.44h-1.6M51.3 527.72h1.6M312 527.72h-1.6M51.3 523h3M312 523h-3M51.3 518.28h1.6M312 518.28h-1.6M51.3 513.56h1.6M312 513.56h-1.6M51.3 508.84h1.6M312 508.84h-1.6M51.3 504.12h1.6M312 504.12h-1.6M51.3 499.4h3M312 499.4h-3M51.3 494.68h1.6M312 494.68h-1.6M51.3 489.96h1.6M312 489.96h-1.6M51.3 485.24h1.6M312 485.24h-1.6M51.3 480.52h1.6M312 480.52h-1.6M51.3 475.8h3M312 475.8h-3M51.3 471.08h1.6M312 471.08h-1.6M51.3 466.36h1.6M312 466.36h-1.6M51.3 461.64h1.6M312 461.64h-1.6M51.3 456.92h1.6M312 456.92h-1.6M51.3 452.2h3M312 452.2h-3M51.3 447.48h1.6M312 447.48h-1.6M51.3 442.76h1.6M312 442.76h-1.6" stroke="#8a8a8a" stroke-width="0.8" fill="none"/>
<rect x="51.3" y="442.1" width="260.7" height="161.3" fill="none" stroke="#9c9c9c" stroke-width="1"/>
<text x="47.6" y="597.95" class="tl" text-anchor="end">−<tspan dx="0.9">0.15</tspan></text>
<text x="47.6" y="574.35" class="tl" text-anchor="end">−<tspan dx="0.9">0.10</tspan></text>
<text x="47.6" y="550.75" class="tl" text-anchor="end">−<tspan dx="0.9">0.05</tspan></text>
<text x="47.6" y="527.15" class="tl" text-anchor="end">0</text>
<text x="47.6" y="503.55" class="tl" text-anchor="end">0.05</text>
<text x="47.6" y="479.95" class="tl" text-anchor="end">0.10</text>
<text x="47.6" y="456.35" class="tl" text-anchor="end">0.15</text>
<text x="83.4" y="617.4" class="tl" text-anchor="middle">0</text>
<text x="128.04" y="617.4" class="tl" text-anchor="middle">50</text>
<text x="172.68" y="617.4" class="tl" text-anchor="middle">100</text>
<text x="217.32" y="617.4" class="tl" text-anchor="middle">150</text>
<text x="261.96" y="617.4" class="tl" text-anchor="middle">200</text>
<text x="306.6" y="617.4" class="tl" text-anchor="middle">250</text>
<text x="181.9" y="637.4" class="al" text-anchor="middle">time (ms)</text>
<text transform="translate(8.9 522.75) rotate(-90)" class="yl" text-anchor="middle">response (mV)</text>
<text x="303.5" y="595.1" class="td" text-anchor="end">1 Td</text>
<g fill="none" stroke="#ff0000" stroke-width="2" stroke-linejoin="round"><path d="M72.9 468.2L87.1 468.2L88.5 468.1L89.8 467.8L91.2 467.2L93 466L95.2 464L97.4 461.6L99.6 459.5L101.9 457.8L103.7 456.7L105.5 455.8L106.8 455.3L109.9 454.4L113.9 453.8L116.6 453.6L121.5 454L125.5 454.7L129.1 455.6L141.2 459.1L145.2 460L156.3 462L163.5 463.2L174.6 464.8L179.1 465.3L185.4 465.8L197 466.6L204.6 467L216.6 467.5L234 467.9L262.6 468.2L306.3 468.2"/><path d="M72.9 481.9L87.1 481.9L89.8 481.5L91.2 481.1L93 480.2L95.2 478.5L99.6 474.9L101.9 473.5L103.7 472.6L106.8 471.5L109.9 470.8L113.9 470.3L116.6 470.1L121.5 470.4L125.5 471L129.1 471.7L141.2 474.6L145.2 475.3L156.3 476.9L163.5 477.9L174.6 479.1L185.4 480L197 480.6L204.6 481L216.6 481.3L234 481.6L262.6 481.9L306.3 481.9"/><path d="M72.9 495.6L87.1 495.6L89.8 495.4L91.2 495.1L93 494.6L99.6 491.4L101.9 490.6L103.7 490L106.8 489.4L109.9 488.9L113.9 488.6L116.6 488.5L121.5 488.7L125.5 489.1L141.2 491.2L156.3 492.6L174.6 493.9L185.4 494.5L204.6 495L234 495.4L262.6 495.6L306.3 495.6"/><path d="M72.9 509.3L87.1 509.3L89.8 509.2L93 508.9L99.6 507.6L103.7 507.1L109.9 506.6L116.6 506.5L125.5 506.7L141.2 507.5L156.3 508.1L174.6 508.6L185.4 508.8L204.6 509.1L234 509.2L306.3 509.3"/><path d="M72.9 536.7L87.1 536.7L89.8 536.8L93 537L99.6 538.1L103.7 538.6L109.9 538.9L116.6 539L126.4 538.9L169.7 537.6L198.7 537L238.5 536.8L306.3 536.7"/><path d="M72.9 550.4L87.1 550.4L89.8 550.6L91.2 550.8L93 551.3L99.6 554L101.9 554.7L103.7 555.2L106.8 555.7L109.9 556.1L113.9 556.3L116.6 556.4L122 556.3L126.4 556L142.9 554.7L169.7 552.8L186.3 551.8L198.7 551.3L218.4 550.8L238.5 550.5L266.2 550.4L306.3 550.4"/><path d="M72.9 564.1L87.1 564.1L89.8 564.4L91.2 564.9L93 565.7L95.2 567.3L99.6 570.6L101.9 571.9L103.7 572.7L106.8 573.7L109.9 574.4L113.9 574.9L116.6 575L122 574.8L126.4 574.3L142.9 571.8L161.7 569.4L169.7 568.4L186.3 566.6L198.7 565.7L218.4 564.8L238.5 564.4L266.2 564.1L306.3 564.1"/><path d="M72.9 577.8L87.1 577.8L88.5 577.9L89.8 578.2L91.2 578.8L93 579.8L95.2 581.8L97.4 584L99.6 586L101.9 587.6L103.7 588.6L106.8 589.9L109.9 590.8L113.9 591.4L116.6 591.5L122 591.2L126.4 590.7L142.9 587.5L161.7 584.4L169.7 583.2L186.3 581L198.7 579.8L209.5 579.1L218.4 578.7L238.5 578.1L266.2 577.8L306.3 577.8"/></g>
<g fill="none" stroke="none" marker-start="url(#c)" marker-mid="url(#c)" marker-end="url(#c)"><path d="M83.4 468.2L86.4 468.2L88.8 468L91.8 466.8L94.1 465L97.1 461.9L100.2 459L102.5 457.4L105.2 456.3L107.5 455.7L110.5 455.4L114.5 455L117.5 455L119.8 455.2L122.9 455.6L125.9 456.2L128.9 456.8L132 457.5L134.6 458.1L137.3 458.7L141.4 459.7L145 460.2L149.6 460.9L154.7 461.7L158.8 462.5L161.9 463L166.5 463.6L171.2 464.3L175.8 464.9L180.4 465.4L184 465.7L188.1 466L191.2 466.2L196.2 466.6L200.9 466.9L203.9 467L209 467.2L213.1 467.3L217.2 467.5L222.3 467.6L227 467.7L230 467.8L234.6 467.9L238.7 468L241.8 468L245.4 468L248.4 468.1L252 468.1L256.1 468.1L260.7 468.2L264.8 468.2L269.5 468.2L274.1 468.2L278.7 468.2L281.8 468.2L285.9 468.2L288.9 468.2L293 468.2L298.1 468.2L302.8 468.2L306.6 468.2"/><path d="M83.4 481.9L86.4 481.9L88.8 481.8L91.8 480.8L94.1 479.3L97.1 476.8L100.2 474.5L102.5 473.2L105.2 472.3L107.5 471.9L110.5 471.6L114.5 471.3L117.5 471.3L119.8 471.4L122.9 471.8L125.9 472.2L128.9 472.7L132 473.2L134.6 473.7L137.3 474.3L141.4 475L145 475.5L149.6 476L154.7 476.7L158.8 477.3L161.9 477.7L166.5 478.2L171.2 478.7L175.8 479.3L180.4 479.6L184 479.9L188.1 480.1L191.2 480.3L196.2 480.6L200.9 480.8L203.9 480.9L209 481.1L213.1 481.2L217.2 481.3L222.3 481.4L227 481.5L230 481.6L234.6 481.6L238.7 481.7L241.8 481.7L245.4 481.8L248.4 481.8L252 481.8L256.1 481.8L260.7 481.9L264.8 481.9L269.5 481.9L274.1 481.9L278.7 481.9L281.8 481.9L285.9 481.9L288.9 481.9L293 481.9L298.1 481.9L302.8 481.9L306.6 481.9"/><path d="M83.4 495.6L86.4 495.6L88.8 495.5L91.8 494.9L94.1 494.1L97.1 492.6L100.2 491.2L102.5 490.4L105.2 489.8L107.5 489.6L110.5 489.4L114.5 489.2L117.5 489.2L119.8 489.3L122.9 489.5L125.9 489.8L128.9 490.1L132 490.4L134.6 490.7L137.3 491L141.4 491.5L145 491.8L149.6 492.1L154.7 492.5L158.8 492.8L161.9 493.1L166.5 493.4L171.2 493.7L175.8 494L180.4 494.3L184 494.4L188.1 494.6L191.2 494.7L196.2 494.8L200.9 495L203.9 495L209 495.1L213.1 495.2L217.2 495.2L222.3 495.3L227 495.4L230 495.4L234.6 495.4L238.7 495.5L241.8 495.5L245.4 495.5L248.4 495.5L252 495.6L256.1 495.6L260.7 495.6L264.8 495.6L269.5 495.6L274.1 495.6L278.7 495.6L281.8 495.6L285.9 495.6L288.9 495.6L293 495.6L298.1 495.6L302.8 495.6L306.6 495.6"/><path d="M83.4 509.3L86.4 509.3L88.8 509.3L91.8 509L94.1 508.7L97.1 508.1L100.2 507.5L102.5 507.2L105.2 507L107.5 506.9L110.5 506.8L114.5 506.7L117.5 506.7L119.8 506.8L122.9 506.9L125.9 507L128.9 507.1L132 507.2L134.6 507.3L137.3 507.5L141.4 507.7L145 507.8L149.6 507.9L154.7 508.1L158.8 508.2L161.9 508.3L166.5 508.4L171.2 508.5L175.8 508.7L180.4 508.8L184 508.8L188.1 508.9L191.2 508.9L196.2 509L200.9 509L203.9 509.1L209 509.1L213.1 509.1L217.2 509.2L222.3 509.2L227 509.2L230 509.2L234.6 509.2L238.7 509.3L241.8 509.3L245.4 509.3L248.4 509.3L252 509.3L256.1 509.3L260.7 509.3L264.8 509.3L269.5 509.3L274.1 509.3L278.7 509.3L281.8 509.3L285.9 509.3L288.9 509.3L293 509.3L298.1 509.3L302.8 509.3L306.6 509.3"/><path d="M83.4 536.7L86.4 536.7L88.8 536.7L91.8 536.9L94.1 537.2L97.1 537.7L100.2 538.2L102.5 538.4L105.2 538.6L107.5 538.7L110.5 538.8L114.5 538.8L117.5 538.8L119.8 538.8L122.9 538.7L125.9 538.7L128.9 538.6L132 538.5L134.6 538.5L137.3 538.4L141.4 538.3L145 538.3L149.6 538.2L154.7 538L158.8 537.9L161.9 537.8L166.5 537.7L171.2 537.6L175.8 537.5L180.4 537.4L184 537.3L188.1 537.2L191.2 537.1L196.2 537.1L200.9 537L203.9 537L209 536.9L213.1 536.9L217.2 536.9L222.3 536.8L227 536.8L230 536.8L234.6 536.8L238.7 536.7L241.8 536.7L245.4 536.7L248.4 536.7L252 536.7L256.1 536.7L260.7 536.7L264.8 536.7L269.5 536.7L274.1 536.7L278.7 536.7L281.8 536.7L285.9 536.7L288.9 536.7L293 536.7L298.1 536.7L302.8 536.7L306.6 536.7"/><path d="M83.4 550.4L86.4 550.4L88.8 550.5L91.8 551L94.1 551.7L97.1 553L100.2 554.2L102.5 554.9L105.2 555.3L107.5 555.5L110.5 555.7L114.5 555.8L117.5 555.8L119.8 555.8L122.9 555.6L125.9 555.5L128.9 555.3L132 555.1L134.6 555L137.3 554.8L141.4 554.6L145 554.4L149.6 554.1L154.7 553.8L158.8 553.5L161.9 553.3L166.5 553L171.2 552.7L175.8 552.4L180.4 552.1L184 551.9L188.1 551.7L191.2 551.6L196.2 551.4L200.9 551.2L203.9 551.1L209 551L213.1 550.9L217.2 550.8L222.3 550.7L227 550.6L230 550.6L234.6 550.6L238.7 550.5L241.8 550.5L245.4 550.5L248.4 550.5L252 550.5L256.1 550.4L260.7 550.4L264.8 550.4L269.5 550.4L274.1 550.4L278.7 550.4L281.8 550.4L285.9 550.4L288.9 550.4L293 550.4L298.1 550.4L302.8 550.4L306.6 550.4"/><path d="M83.4 564.1L86.4 564.1L88.8 564.2L91.8 565.1L94.1 566.5L97.1 568.8L100.2 571L102.5 572.2L105.2 573L107.5 573.4L110.5 573.7L114.5 574L117.5 574L119.8 573.8L122.9 573.6L125.9 573.3L128.9 573L132 572.7L134.6 572.4L137.3 572.1L141.4 571.7L145 571.3L149.6 570.9L154.7 570.3L158.8 569.7L161.9 569.3L166.5 568.8L171.2 568.2L175.8 567.7L180.4 567.2L184 566.8L188.1 566.5L191.2 566.2L196.2 565.8L200.9 565.6L203.9 565.4L209 565.2L213.1 565L217.2 564.8L222.3 564.7L227 564.6L230 564.5L234.6 564.4L238.7 564.3L241.8 564.3L245.4 564.3L248.4 564.2L252 564.2L256.1 564.2L260.7 564.2L264.8 564.1L269.5 564.1L274.1 564.1L278.7 564.1L281.8 564.1L285.9 564.1L288.9 564.1L293 564.1L298.1 564.1L302.8 564.1L306.6 564.1"/><path d="M83.4 577.8L86.4 577.8L88.8 578L91.8 579.1L94.1 580.8L97.1 583.7L100.2 586.4L102.5 588L105.2 589L107.5 589.5L110.5 589.9L114.5 590.2L117.5 590.2L119.8 590.1L122.9 589.8L125.9 589.4L128.9 589L132 588.6L134.6 588.3L137.3 587.9L141.4 587.3L145 586.9L149.6 586.3L154.7 585.6L158.8 584.9L161.9 584.4L166.5 583.7L171.2 583L175.8 582.4L180.4 581.7L184 581.2L188.1 580.8L191.2 580.4L196.2 580L200.9 579.6L203.9 579.4L209 579.1L213.1 578.9L217.2 578.7L222.3 578.5L227 578.4L230 578.3L234.6 578.2L238.7 578.1L241.8 578.1L245.4 578L248.4 578L252 577.9L256.1 577.9L260.7 577.9L264.8 577.8L269.5 577.8L274.1 577.8L278.7 577.8L281.8 577.8L285.9 577.8L288.9 577.8L293 577.8L298.1 577.8L302.8 577.8L306.6 577.8"/></g>
<text transform="translate(71.26 470.65) scale(1.04 1)" class="trl" text-anchor="end">−1</text>
<text transform="translate(71.26 484.34) scale(1.04 1)" class="trl" text-anchor="end">−0.8</text>
<text transform="translate(71.26 498.02) scale(1.04 1)" class="trl" text-anchor="end">−0.5</text>
<text transform="translate(71.26 511.71) scale(1.04 1)" class="trl" text-anchor="end">−0.2</text>
<text transform="translate(71.26 539.09) scale(1.04 1)" class="trl" text-anchor="end">0.2</text>
<text transform="translate(71.26 552.78) scale(1.04 1)" class="trl" text-anchor="end">0.5</text>
<text transform="translate(71.26 566.46) scale(1.04 1)" class="trl" text-anchor="end">0.8</text>
<text transform="translate(71.26 580.15) scale(1.04 1)" class="trl" text-anchor="end">1</text>
<rect x="433.3" y="21.9" width="89.28" height="161.3" fill="#e3e3e3"/>
<path d="M406.52 183.2v-1.6M406.52 21.9v1.6M415.44 183.2v-1.6M415.44 21.9v1.6M424.37 183.2v-1.6M424.37 21.9v1.6M433.3 183.2v-3M433.3 21.9v3M442.23 183.2v-1.6M442.23 21.9v1.6M451.16 183.2v-1.6M451.16 21.9v1.6M460.08 183.2v-1.6M460.08 21.9v1.6M469.01 183.2v-1.6M469.01 21.9v1.6M477.94 183.2v-3M477.94 21.9v3M486.87 183.2v-1.6M486.87 21.9v1.6M495.8 183.2v-1.6M495.8 21.9v1.6M504.72 183.2v-1.6M504.72 21.9v1.6M513.65 183.2v-1.6M513.65 21.9v1.6M522.58 183.2v-3M522.58 21.9v3M531.51 183.2v-1.6M531.51 21.9v1.6M540.44 183.2v-1.6M540.44 21.9v1.6M549.36 183.2v-1.6M549.36 21.9v1.6M558.29 183.2v-1.6M558.29 21.9v1.6M567.22 183.2v-3M567.22 21.9v3M576.15 183.2v-1.6M576.15 21.9v1.6M585.08 183.2v-1.6M585.08 21.9v1.6M594 183.2v-1.6M594 21.9v1.6M602.93 183.2v-1.6M602.93 21.9v1.6M611.86 183.2v-3M611.86 21.9v3M620.79 183.2v-1.6M620.79 21.9v1.6M629.72 183.2v-1.6M629.72 21.9v1.6M638.64 183.2v-1.6M638.64 21.9v1.6M647.57 183.2v-1.6M647.57 21.9v1.6M656.5 183.2v-3M656.5 21.9v3M400.9 182.58h1.6M662 182.58h-1.6M400.9 174.42h1.6M662 174.42h-1.6M400.9 166.26h1.6M662 166.26h-1.6M400.9 158.1h3M662 158.1h-3M400.9 149.94h1.6M662 149.94h-1.6M400.9 141.78h1.6M662 141.78h-1.6M400.9 133.62h1.6M662 133.62h-1.6M400.9 125.46h1.6M662 125.46h-1.6M400.9 117.3h3M662 117.3h-3M400.9 109.14h1.6M662 109.14h-1.6M400.9 100.98h1.6M662 100.98h-1.6M400.9 92.82h1.6M662 92.82h-1.6M400.9 84.66h1.6M662 84.66h-1.6M400.9 76.5h3M662 76.5h-3M400.9 68.34h1.6M662 68.34h-1.6M400.9 60.18h1.6M662 60.18h-1.6M400.9 52.02h1.6M662 52.02h-1.6M400.9 43.86h1.6M662 43.86h-1.6M400.9 35.7h3M662 35.7h-3M400.9 27.54h1.6M662 27.54h-1.6" stroke="#8a8a8a" stroke-width="0.8" fill="none"/>
<rect x="400.9" y="21.9" width="261.1" height="161.3" fill="none" stroke="#9c9c9c" stroke-width="1"/>
<text x="397.2" y="162.25" class="tl" text-anchor="end">−<tspan dx="0.9">5</tspan></text>
<text x="397.2" y="121.45" class="tl" text-anchor="end">0</text>
<text x="397.2" y="80.65" class="tl" text-anchor="end">5</text>
<text x="397.2" y="39.85" class="tl" text-anchor="end">10</text>
<text x="433.3" y="197.2" class="tl" text-anchor="middle">0</text>
<text x="477.94" y="197.2" class="tl" text-anchor="middle">50</text>
<text x="522.58" y="197.2" class="tl" text-anchor="middle">100</text>
<text x="567.22" y="197.2" class="tl" text-anchor="middle">150</text>
<text x="611.86" y="197.2" class="tl" text-anchor="middle">200</text>
<text x="656.5" y="197.2" class="tl" text-anchor="middle">250</text>
<text x="531.8" y="217.2" class="al" text-anchor="middle">time (ms)</text>
<text transform="translate(366.3 102.55) rotate(-90)" class="yl" text-anchor="middle">response (mV)</text>
<text x="653.5" y="174.9" class="td" text-anchor="end">100 Td</text>
<g fill="none" stroke="#ff0000" stroke-width="2" stroke-linejoin="round"><path d="M422.8 84.7L433.5 84.7L436.2 84.4L438.4 83.9L439.7 83.4L441.1 82.6L443.7 80.9L445.1 79.8L446.9 78.2L449.1 76L450.4 74.5L456.7 66.4L462.5 58.5L464.3 56.4L466.5 54L470.1 50.7L474.1 47.4L478.6 44.3L480.8 42.9L483 41.6L487 39.6L490.6 38.1L494.6 36.7L499.1 35.4L505.3 33.8L508.9 32.9L515.6 31.9L523.7 30.2L525.4 30L526.3 30.1L527.2 30.2L528.6 30.7L529.9 31.3L530.8 31.9L531.7 32.7L533.5 34.7L536.6 39.6L539.7 45.1L542.4 50.4L546.4 59L550.9 68.1L552.7 71.4L554.9 75.2L556.7 77.8L558 79.6L559.8 81.7L561.6 83.6L562.9 84.8L564.7 86.1L566.1 87L567.4 87.6L570.1 88.6L572.3 89.2L576.8 89.5L580.8 89.6L584.8 89.3L604 87.6L619.2 86.5L637 85.6L656.2 85"/><path d="M422.8 93L433.5 93L435.3 92.9L438.8 92.3L440.2 91.8L442 90.9L444.2 89.6L445.5 88.5L446.9 87.2L450 84.1L455.8 77.4L459.8 73.4L462.9 70.7L466.1 68.3L469.6 66L472.8 64.3L475.4 63.1L478.6 61.9L482.1 60.8L487 59.6L491.1 58.7L495.5 58.2L499.5 57.8L505.8 57.5L510.3 57.4L521.9 57.5L525.9 57.8L526.8 57.9L527.7 58.2L529 58.9L530.3 59.8L531.7 60.9L533.9 63.4L537 67.5L546.4 79L550 83.8L552.2 86.5L554 88.4L556.7 90.8L558.9 92.4L561.6 93.9L563.8 95.1L565.6 95.8L567.4 96.4L571 96.9L575 97.3L577.7 97.4L582.1 97.3L591.1 96.9L612 95.2L624.5 94.4L640.6 93.6L656.2 93"/><path d="M422.8 100.9L434.8 100.9L438.4 100.6L440.2 100.1L442 99.4L444.2 98.4L453.1 92.3L455.4 91L457.1 90.1L460.3 88.8L463.8 87.5L468.7 86L472.3 85L475.4 84.5L479.5 83.9L488.4 83L491.5 82.9L504.5 82.9L522.3 83L524.5 83.3L527.2 84L530.3 85.4L532.6 86.7L538.8 91.2L545.1 96.4L546.9 97.6L549.1 98.9L552.7 100.6L554.9 101.5L558.9 102.5L562.9 103.1L566.1 103.5L568.3 103.6L580.3 103.7L586.1 103.5L599.1 102.8L616.1 102.3L637.5 101.8L656.2 101.4"/><path d="M422.8 109.2L433.9 109.2L437.5 108.9L443.3 108.1L450.4 106.3L458.5 104.9L463.8 104.3L472.3 103.6L476.8 103.4L484.4 103.3L522.8 103.2L526.8 103.4L533 104.2L547.8 107.3L553.1 108.3L560.7 109.2L566.1 109.7L575.9 109.9L584.8 110L625.9 109.9L656.2 109.7"/><path d="M422.8 125.8L433.5 125.8L436.6 126L443.3 127.2L449.1 128.8L450.9 129.2L457.6 130.3L462 130.8L464.7 130.9L475.9 131.1L493.7 131.2L516.1 131L522.8 130.9L525.4 130.7L529 130.3L533 129.6L540.6 127.7L547.8 126.1L550.9 125.5L554.5 125L562 124.6L567 124.5L581.2 124.5L656.2 125.2"/><path d="M422.8 133.9L433.9 133.9L436.2 134.1L438.8 134.6L441.1 135.3L445.5 137.3L451.3 139.5L459.4 142.2L463.8 143.5L469.6 144.7L473.7 145.2L482.1 145.7L488.8 145.9L496.4 145.9L509.8 145.8L521.9 145.6L524.1 145.4L526.8 145L529 144.2L532.1 142.7L540.6 137.2L542.8 136L545.1 135.1L549.5 133.5L552.7 132.7L554.9 132.3L560.3 131.7L564.7 131.5L580.8 131.5L599.5 132.1L656.2 133.4"/><path d="M422.8 142.3L433.9 142.3L435.7 142.7L438.4 143.5L440.6 144.6L446 148.2L454 152.7L460.7 155.8L463.4 156.8L465.6 157.5L468.7 158.2L471.9 158.8L479.9 159.8L482.6 160L492.4 160L500 159.8L516.1 158.7L522.8 158.1L526.3 157.5L528.1 156.7L529.9 155.6L533 153L536.6 149.7L540.2 146.7L543.3 144.4L546 142.8L549.5 141.1L553.1 139.9L557.1 139.1L561.6 138.4L565.2 138.2L577.7 138.2L582.1 138.3L599.1 139.3L656.2 141.9"/><path d="M422.8 150.4L433.9 150.4L435.7 150.9L438.4 152.1L439.3 152.7L440.6 153.8L444.2 157.2L448.2 161.2L450.9 163.6L453.1 165.3L454.9 166.6L456.2 167.3L458.9 168.6L461.6 169.7L463.8 170.5L467 171.3L469.6 172L471.9 172.4L473.7 172.6L476.3 172.7L483 172.9L488.4 172.8L493.7 172.5L508.9 170L512 169.7L521.4 169L524.5 168.7L526.8 168.2L528.6 167.4L529.9 166.5L536.2 159.7L539.7 156.1L542.8 153.3L545.5 151.4L549.1 149.3L552.7 147.9L555.3 147.2L561.1 146.1L563.4 145.9L565.6 145.8L580.3 145.9L585.7 146.2L598.2 147.5L618.3 149L639.3 149.9L656.2 150.3"/></g>
<g fill="none" stroke="none" marker-start="url(#c)" marker-mid="url(#c)" marker-end="url(#c)"><path d="M433.3 84.7L437.9 84L443 81.3L446.6 78L450.2 73.6L454.3 67.8L457.3 63.6L462 57.1L465 53.4L468 50.5L473.1 46.4L476.7 44.1L481.3 41.5L485.4 39.7L490.1 38.1L495.2 36.6L498.7 35.5L502.8 34.4L507.5 33.2L511.6 32.5L514.6 32L518.2 31.3L522.8 30.4L527.9 31.5L532.6 35.5L536.7 41.6L540.3 48L544.4 56.4L548.5 64.9L552 72L555.6 78.1L560.3 84.3L565.3 88.8L570 91L574.6 91.9L579.7 92.1L582.8 91.9L587.8 91.5L592.9 90.9L597 90.5L600.1 90.1L604.2 89.7L609.3 89.3L613.9 88.8L616.9 88.6L620.5 88.3L625.6 87.8L630.3 87.5L635.3 87.1L640 86.7L644.1 86.4L648.2 86.1L652.3 85.9L656.5 85.6"/><path d="M433.3 93L437.9 92.5L443 90.3L446.6 87.2L450.2 83.1L454.3 77.9L457.3 74.6L462 70.1L465 67.7L468 65.6L473.1 63L476.7 61.7L481.3 60.4L485.4 59.5L490.1 58.8L495.2 58.2L498.7 57.9L502.8 57.6L507.5 57.4L511.6 57.4L514.6 57.4L518.2 57.4L522.8 57.5L527.9 59.1L532.6 63.1L536.7 68.3L540.3 72.6L544.4 77.7L548.5 82.9L552 87.3L555.6 91.1L560.3 94.5L565.3 97.2L570 98.4L574.6 98.9L579.7 99L582.8 98.9L587.8 98.6L592.9 98.2L597 97.8L600.1 97.6L604.2 97.2L609.3 96.8L613.9 96.4L616.9 96.1L620.5 95.8L625.6 95.4L630.3 95.1L635.3 94.7L640 94.4L644.1 94.2L648.2 93.9L652.3 93.7L656.5 93.4"/><path d="M433.3 100.9L437.9 100.6L443 99L446.6 96.6L450.2 93.9L454.3 91.1L457.3 89.4L462 87.4L465 86.4L468 85.5L473.1 84.3L476.7 83.8L481.3 83.3L485.4 83.1L490.1 82.9L495.2 82.9L498.7 82.9L502.8 82.9L507.5 82.9L511.6 82.9L514.6 83L518.2 83L522.8 83.1L527.9 84.6L532.6 87.4L536.7 90.3L540.3 93L544.4 96.4L548.5 99.1L552 100.9L555.6 102.3L560.3 103.4L565.3 104.1L570 104.4L574.6 104.5L579.7 104.5L582.8 104.4L587.8 104.2L592.9 103.9L597 103.7L600.1 103.5L604.2 103.4L609.3 103.2L613.9 103L616.9 102.9L620.5 102.8L625.6 102.6L630.3 102.4L635.3 102.3L640 102.1L644.1 102L648.2 101.9L652.3 101.7L656.5 101.6"/><path d="M433.3 109.2L437.9 108.9L443 108.2L446.6 107.3L450.2 106.3L454.3 105.4L457.3 104.9L462 104.2L465 103.9L468 103.7L473.1 103.4L476.7 103.3L481.3 103.2L485.4 103.3L490.1 103.3L495.2 103.3L498.7 103.3L502.8 103.2L507.5 103.2L511.6 103.2L514.6 103.2L518.2 103.2L522.8 103.2L527.9 103.7L532.6 104.4L536.7 105.2L540.3 106L544.4 106.8L548.5 107.6L552 108.3L555.6 108.8L560.3 109.4L565.3 109.9L570 110L574.6 110.2L579.7 110.2L582.8 110.3L587.8 110.3L592.9 110.3L597 110.2L600.1 110.2L604.2 110.2L609.3 110.2L613.9 110.2L616.9 110.2L620.5 110.2L625.6 110.1L630.3 110.1L635.3 110.1L640 110L644.1 110L648.2 109.9L652.3 109.9L656.5 109.8"/><path d="M433.3 125.8L437.9 126.2L443 127.2L446.6 128.1L450.2 129.1L454.3 129.9L457.3 130.4L462 131L465 131.1L468 131.2L473.1 131.3L476.7 131.3L481.3 131.3L485.4 131.3L490.1 131.2L495.2 131.2L498.7 131.2L502.8 131.1L507.5 131.1L511.6 131.1L514.6 131L518.2 131L522.8 130.9L527.9 130.3L532.6 129.5L536.7 128.5L540.3 127.6L544.4 126.6L548.5 125.7L552 125.1L555.6 124.8L560.3 124.5L565.3 124.3L570 124.3L574.6 124.3L579.7 124.3L582.8 124.3L587.8 124.4L592.9 124.4L597 124.4L600.1 124.5L604.2 124.5L609.3 124.6L613.9 124.6L616.9 124.6L620.5 124.7L625.6 124.7L630.3 124.8L635.3 124.9L640 124.9L644.1 125L648.2 125L652.3 125.1L656.5 125.1"/><path d="M433.3 133.9L437.9 134.4L443 136.2L446.6 137.8L450.2 139.3L454.3 140.9L457.3 142L462 143.5L465 144.3L468 144.9L473.1 145.5L476.7 145.7L481.3 145.9L485.4 145.9L490.1 145.9L495.2 145.9L498.7 145.9L502.8 145.9L507.5 145.8L511.6 145.8L514.6 145.7L518.2 145.7L522.8 145.5L527.9 144.4L532.6 142L536.7 139.3L540.3 137L544.4 135L548.5 133.5L552 132.4L555.6 131.8L560.3 131.3L565.3 131L570 131L574.6 131L579.7 131L582.8 131L587.8 131.2L592.9 131.4L597 131.5L600.1 131.6L604.2 131.7L609.3 131.9L613.9 132L616.9 132.1L620.5 132.2L625.6 132.3L630.3 132.4L635.3 132.6L640 132.7L644.1 132.8L648.2 133L652.3 133.1L656.5 133.2"/><path d="M433.3 142.3L437.9 143.4L443 146.2L446.6 148.7L450.2 151L454.3 153.4L457.3 154.9L462 157L465 158L468 158.7L473.1 159.5L476.7 159.9L481.3 160.3L485.4 160.2L490.1 160.1L495.2 160L498.7 159.8L502.8 159.6L507.5 159.3L511.6 159L514.6 158.8L518.2 158.5L522.8 158.1L527.9 156.4L532.6 152.7L536.7 149L540.3 146L544.4 143.2L548.5 141L552 139.6L555.6 138.7L560.3 137.9L565.3 137.5L570 137.4L574.6 137.4L579.7 137.4L582.8 137.5L587.8 137.8L592.9 138.2L597 138.4L600.1 138.6L604.2 138.8L609.3 139.1L613.9 139.4L616.9 139.5L620.5 139.7L625.6 140L630.3 140.2L635.3 140.5L640 140.8L644.1 141L648.2 141.2L652.3 141.5L656.5 141.7"/><path d="M433.3 150.4L437.9 151.9L443 156.1L446.6 159.9L450.2 163.5L454.3 166.9L457.3 168.7L462 170.7L465 171.7L468 172.5L473.1 173.2L476.7 173.3L481.3 173.3L485.4 173.2L490.1 172.8L495.2 172.3L498.7 171.7L502.8 171L507.5 170.2L511.6 169.8L514.6 169.5L518.2 169.3L522.8 168.9L527.9 167.3L532.6 162.8L536.7 158.4L540.3 154.8L544.4 151.4L548.5 149L552 147.4L555.6 146.4L560.3 145.4L565.3 144.9L570 144.8L574.6 144.8L579.7 144.8L582.8 145L587.8 145.5L592.9 146L597 146.5L600.1 146.7L604.2 147.1L609.3 147.5L613.9 147.9L616.9 148.1L620.5 148.3L625.6 148.6L630.3 148.9L635.3 149.1L640 149.4L644.1 149.6L648.2 149.7L652.3 149.9L656.5 150"/></g>
<text transform="translate(421.16 87.1) scale(1.04 1)" class="trl" text-anchor="end">−1</text>
<text transform="translate(421.16 95.4) scale(1.04 1)" class="trl" text-anchor="end">−0.8</text>
<text transform="translate(421.16 103.3) scale(1.04 1)" class="trl" text-anchor="end">−0.5</text>
<text transform="translate(421.16 111.6) scale(1.04 1)" class="trl" text-anchor="end">−0.2</text>
<text transform="translate(421.16 128.2) scale(1.04 1)" class="trl" text-anchor="end">0.2</text>
<text transform="translate(421.16 136.3) scale(1.04 1)" class="trl" text-anchor="end">0.5</text>
<text transform="translate(421.16 144.7) scale(1.04 1)" class="trl" text-anchor="end">0.8</text>
<text transform="translate(421.16 152.8) scale(1.04 1)" class="trl" text-anchor="end">1</text>
<rect x="433.3" y="232.5" width="89.28" height="160.8" fill="#e3e3e3"/>
<path d="M406.52 393.3v-1.6M406.52 232.5v1.6M415.44 393.3v-1.6M415.44 232.5v1.6M424.37 393.3v-1.6M424.37 232.5v1.6M433.3 393.3v-3M433.3 232.5v3M442.23 393.3v-1.6M442.23 232.5v1.6M451.16 393.3v-1.6M451.16 232.5v1.6M460.08 393.3v-1.6M460.08 232.5v1.6M469.01 393.3v-1.6M469.01 232.5v1.6M477.94 393.3v-3M477.94 232.5v3M486.87 393.3v-1.6M486.87 232.5v1.6M495.8 393.3v-1.6M495.8 232.5v1.6M504.72 393.3v-1.6M504.72 232.5v1.6M513.65 393.3v-1.6M513.65 232.5v1.6M522.58 393.3v-3M522.58 232.5v3M531.51 393.3v-1.6M531.51 232.5v1.6M540.44 393.3v-1.6M540.44 232.5v1.6M549.36 393.3v-1.6M549.36 232.5v1.6M558.29 393.3v-1.6M558.29 232.5v1.6M567.22 393.3v-3M567.22 232.5v3M576.15 393.3v-1.6M576.15 232.5v1.6M585.08 393.3v-1.6M585.08 232.5v1.6M594 393.3v-1.6M594 232.5v1.6M602.93 393.3v-1.6M602.93 232.5v1.6M611.86 393.3v-3M611.86 232.5v3M620.79 393.3v-1.6M620.79 232.5v1.6M629.72 393.3v-1.6M629.72 232.5v1.6M638.64 393.3v-1.6M638.64 232.5v1.6M647.57 393.3v-1.6M647.57 232.5v1.6M656.5 393.3v-3M656.5 232.5v3M400.9 390.22h1.6M662 390.22h-1.6M400.9 383.76h1.6M662 383.76h-1.6M400.9 377.3h3M662 377.3h-3M400.9 370.84h1.6M662 370.84h-1.6M400.9 364.38h1.6M662 364.38h-1.6M400.9 357.92h1.6M662 357.92h-1.6M400.9 351.46h1.6M662 351.46h-1.6M400.9 345h3M662 345h-3M400.9 338.54h1.6M662 338.54h-1.6M400.9 332.08h1.6M662 332.08h-1.6M400.9 325.62h1.6M662 325.62h-1.6M400.9 319.16h1.6M662 319.16h-1.6M400.9 312.7h3M662 312.7h-3M400.9 306.24h1.6M662 306.24h-1.6M400.9 299.78h1.6M662 299.78h-1.6M400.9 293.32h1.6M662 293.32h-1.6M400.9 286.86h1.6M662 286.86h-1.6M400.9 280.4h3M662 280.4h-3M400.9 273.94h1.6M662 273.94h-1.6M400.9 267.48h1.6M662 267.48h-1.6M400.9 261.02h1.6M662 261.02h-1.6M400.9 254.56h1.6M662 254.56h-1.6M400.9 248.1h3M662 248.1h-3M400.9 241.64h1.6M662 241.64h-1.6M400.9 235.18h1.6M662 235.18h-1.6" stroke="#8a8a8a" stroke-width="0.8" fill="none"/>
<rect x="400.9" y="232.5" width="261.1" height="160.8" fill="none" stroke="#9c9c9c" stroke-width="1"/>
<text x="397.2" y="381.45" class="tl" text-anchor="end">−<tspan dx="0.9">2</tspan></text>
<text x="397.2" y="349.15" class="tl" text-anchor="end">−<tspan dx="0.9">1</tspan></text>
<text x="397.2" y="316.85" class="tl" text-anchor="end">0</text>
<text x="397.2" y="284.55" class="tl" text-anchor="end">1</text>
<text x="397.2" y="252.25" class="tl" text-anchor="end">2</text>
<text x="433.3" y="407.3" class="tl" text-anchor="middle">0</text>
<text x="477.94" y="407.3" class="tl" text-anchor="middle">50</text>
<text x="522.58" y="407.3" class="tl" text-anchor="middle">100</text>
<text x="567.22" y="407.3" class="tl" text-anchor="middle">150</text>
<text x="611.86" y="407.3" class="tl" text-anchor="middle">200</text>
<text x="656.5" y="407.3" class="tl" text-anchor="middle">250</text>
<text x="531.8" y="427.3" class="al" text-anchor="middle">time (ms)</text>
<text transform="translate(366.3 312.9) rotate(-90)" class="yl" text-anchor="middle">response (mV)</text>
<text x="653.5" y="385" class="td" text-anchor="end">10 Td</text>
<g fill="none" stroke="#ff0000" stroke-width="2" stroke-linejoin="round"><path d="M422.8 286.5L433.5 286.5L435.7 286.3L438.4 285.9L439.7 285.6L441.5 285L443.7 284L446 282.8L448.7 281L450.9 279.4L453.1 277.6L458.9 272.6L471.9 260.8L476.3 257.1L479.5 254.8L483 252.2L487.5 249.1L490.6 247.2L493.7 245.5L497.8 243.7L504.9 240.7L508.9 239.3L512.9 238.3L517 237.5L522.8 236.7L525.9 236.5L527.7 236.6L529.9 237.2L533 238.5L534.8 239.6L537.9 242.1L540.6 244.5L550.9 254.7L555.3 258.7L560.7 263.6L564.3 266.6L567.8 269.3L573.2 272.8L576.8 274.8L580.3 276.3L583.5 277.5L593.7 280.8L597.8 282L602.7 283.1L608.9 284.1L618.3 285.2L626.3 285.7L640.2 286.3L656.2 286.6"/><path d="M422.8 293.2L433.5 293.2L437 293L438.4 292.9L439.7 292.6L443.7 291.3L445.5 290.5L447.3 289.5L450 288L452.7 286.4L458.5 282.5L471.9 273L476.8 269.8L483 266.2L487.5 263.8L490.6 262.3L494.2 260.9L498.7 259.3L504 257.8L508.5 256.6L513.8 255.6L517.4 255.1L522.3 254.6L525.9 254.5L528.1 254.6L530.8 255.1L533 255.6L534.8 256.4L537.5 258.1L539.3 259.4L545.5 264.8L553.6 271.3L558.5 274.8L562.5 277.5L567 280L572.8 282.9L577.7 284.8L583.5 286.7L590.2 288.5L596.9 290L600.9 290.6L608.9 291.4L617.8 292.1L629 292.5L643.7 293L656.2 293.2"/><path d="M422.8 299.8L433.9 299.8L437.5 299.6L440.2 299.3L443.7 298.4L446.4 297.4L453.6 294.3L457.6 292.4L469.2 286.6L473.2 284.8L476.3 283.6L480.4 282.3L487 280.3L490.6 279.4L496.4 278.3L500.9 277.7L510.3 277.2L517.8 276.7L525.9 276.4L528.1 276.5L530.3 277L533 277.8L538.4 279.6L542.4 281.5L553.6 287.1L555.8 288.1L558.5 289L573.6 294L576.3 294.7L579.9 295.4L586.6 296.5L593.7 297.3L600 297.9L609.8 298.5L618.3 298.9L628.1 299.1L643.3 299.4L656.2 299.5"/><path d="M422.8 305.8L435.7 305.8L442.4 305.4L445.5 305.1L449.5 304.6L457.6 303.3L473.2 300.5L483.5 299.1L490.6 298.3L498.7 297.7L506.7 297.3L518.7 296.9L526.3 296.8L531.7 297L538.4 297.7L556.2 301.3L563.8 302.5L571.9 303.3L581.7 304.1L595.1 304.9L613.4 305.5L636.1 306L656.2 306.2"/><path d="M422.8 319.2L434.8 319.2L442.9 319.6L446.9 320.2L454.9 321.7L461.2 322.6L472.3 324L485.7 325.4L499.5 326.6L506.7 327.1L517.8 327.6L526.3 327.7L529.9 327.5L533.5 327.1L535.7 326.6L539.7 325.2L541.5 324.6L546.9 323.5L551.8 322.6L561.6 321.4L572.3 320.4L583.5 319.9L598.2 319.4L631.2 318.9L656.2 318.7"/><path d="M422.8 325.5L435.7 325.6L439.7 325.9L443.7 326.5L446 327L449.5 328L454.9 329.6L470.5 335.1L476.8 337.2L482.1 338.8L487 340L499.1 342.6L508 344.1L514.3 344.9L517.4 345.2L525.9 345.4L527.7 345.3L529.9 345.1L533 344.5L534.4 344.2L536.6 343.3L540.6 341.3L549.5 337.2L559.4 333.3L562.9 332.1L566.5 331.1L571.4 330L576.3 329.1L584.4 328L592 327.2L598.6 326.7L607.6 326.2L622.3 325.7L641.1 325.4L656.2 325.3"/><path d="M422.8 332.2L433.5 332.2L436.6 332.3L440.6 332.7L444.2 333.4L446 334.1L450 335.9L454.9 338.4L458 340.2L463.8 343.7L468.3 346.3L474.1 349.4L480.4 352.3L487.5 355.3L491.1 356.7L496.4 358.4L500.9 359.7L505.3 360.6L514.3 362.3L518.3 362.9L525.9 363.1L527.2 363L529 362.5L533 360.8L534.4 360.1L537 358.3L549.5 348.7L553.1 346.4L557.6 344L562 341.9L566.1 340.2L571.9 338.2L577.2 336.8L582.6 335.6L587.9 334.6L595.5 333.5L600.4 333.1L609.8 332.6L620.1 332.3L640.2 331.9L656.2 331.8"/><path d="M422.8 338.6L433.5 338.6L436.6 338.8L438.4 338.9L439.7 339.2L443.3 340.4L444.6 341L446 341.7L450.4 344.6L456.7 349.5L463.8 355.2L468.3 358.6L471.4 360.8L473.7 362.2L476.3 363.7L482.1 366.5L487.5 368.8L492.4 370.6L497.8 372.3L504.5 374.1L509.4 375.2L514.7 376.1L521.9 376.9L525 377.1L526.8 377L529 376.4L532.6 375L533.9 374.3L541.5 368L548.6 361.4L553.6 357.2L557.1 354.5L561.1 351.9L565.2 349.7L570.1 347.4L575 345.5L579.9 343.9L585.7 342.3L591.1 341.3L596.9 340.4L602.7 339.9L611.6 339.4L621 339L640.6 338.6L656.2 338.5"/></g>
<g fill="none" stroke="none" marker-start="url(#c)" marker-mid="url(#c)" marker-end="url(#c)"><path d="M433.3 286.5L436.9 286.2L439.9 285.6L444.5 283.6L448.1 281.4L453.2 277.5L456.8 274.5L460.9 270.9L463.9 268.3L469 264.2L472 262L475.1 259.8L480.2 256.4L485.3 253.2L489.4 250.7L494.5 248.1L498 246.6L502.1 245L507.2 243.2L510.8 242.2L515.4 241.2L518.5 240.8L521.5 240.4L525.1 239.9L529.7 240.1L534.4 241.6L538.5 244L542.6 246.8L545.6 249.3L548.6 251.9L553.3 255.4L556.9 258.1L561.5 262.2L565.6 265.4L569.2 267.9L573.8 270.8L578.9 273.3L582 274.4L585 275.5L588 276.5L592.7 278L595.7 279.1L599.8 280.3L604.4 281.2L609.1 282.1L612.7 282.6L615.7 283L620.3 283.5L623.4 283.8L626.9 284.1L632 284.4L635.1 284.6L639.2 284.8L642.2 285L646.9 285.2L650.4 285.3L656.5 285.5"/><path d="M433.3 293.2L436.9 293L439.9 292.5L444.5 290.9L448.1 289.1L453.2 286L456.8 283.7L460.9 280.8L463.9 278.8L469 275.7L472 273.9L475.1 272.2L480.2 269.5L485.3 266.9L489.4 265L494.5 263.1L498 261.9L502.1 260.7L507.2 259.5L510.8 258.8L515.4 258L518.5 257.6L521.5 257.4L525.1 257.2L529.7 257.1L534.4 258L538.5 260L542.6 262.6L545.6 264.8L548.6 266.8L553.3 269.9L556.9 272.2L561.5 275.2L565.6 277.6L569.2 279.4L573.8 281.5L578.9 283.4L582 284.4L585 285.3L588 286.1L592.7 287.2L595.7 287.9L599.8 288.7L604.4 289.3L609.1 289.8L612.7 290.2L615.7 290.5L620.3 290.8L623.4 291L626.9 291.2L632 291.4L635.1 291.6L639.2 291.8L642.2 291.9L646.9 292.1L650.4 292.2L656.5 292.4"/><path d="M433.3 299.8L436.9 299.7L439.9 299.3L444.5 298.1L448.1 296.7L453.2 294.5L456.8 292.8L460.9 290.8L463.9 289.3L469 287.1L472 285.9L475.1 284.9L480.2 283.4L485.3 282L489.4 281L494.5 280L498 279.5L502.1 279.1L507.2 278.9L510.8 278.7L515.4 278.4L518.5 278.3L521.5 278.1L525.1 278L529.7 278.2L534.4 279.3L538.5 280.4L542.6 281.8L545.6 283L548.6 284.2L553.3 286.3L556.9 287.6L561.5 289.1L565.6 290.3L569.2 291.5L573.8 292.9L578.9 294.1L582 294.6L585 295.1L588 295.5L592.7 296.1L595.7 296.4L599.8 296.8L604.4 297.2L609.1 297.5L612.7 297.7L615.7 297.9L620.3 298.1L623.4 298.2L626.9 298.3L632 298.5L635.1 298.5L639.2 298.7L642.2 298.7L646.9 298.8L650.4 298.9L656.5 299"/><path d="M433.3 305.8L436.9 305.7L439.9 305.5L444.5 305.2L448.1 304.8L453.2 304L456.8 303.5L460.9 302.8L463.9 302.2L469 301.4L472 300.9L475.1 300.6L480.2 299.9L485.3 299.3L489.4 298.9L494.5 298.6L498 298.3L502.1 298.1L507.2 297.9L510.8 297.8L515.4 297.6L518.5 297.5L521.5 297.5L525.1 297.4L529.7 297.4L534.4 297.7L538.5 298L542.6 298.6L545.6 299.2L548.6 299.6L553.3 300.4L556.9 301L561.5 301.8L565.6 302.3L569.2 302.7L573.8 303.1L578.9 303.5L582 303.7L585 303.9L588 304.1L592.7 304.4L595.7 304.5L599.8 304.7L604.4 304.8L609.1 305L612.7 305.1L615.7 305.2L620.3 305.3L623.4 305.4L626.9 305.5L632 305.6L635.1 305.7L639.2 305.8L642.2 305.8L646.9 305.9L650.4 306L656.5 306"/><path d="M433.3 319.2L436.9 319.3L439.9 319.4L444.5 319.8L448.1 320.4L453.2 321.4L456.8 322L460.9 322.6L463.9 323L469 323.5L472 323.8L475.1 324L480.2 324.5L485.3 325L489.4 325.3L494.5 325.7L498 326L502.1 326.3L507.2 326.6L510.8 326.8L515.4 326.9L518.5 327L521.5 327.1L525.1 327.1L529.7 327L534.4 326.5L538.5 325.3L542.6 324.3L545.6 323.8L548.6 323.2L553.3 322.6L556.9 322.2L561.5 321.7L565.6 321.3L569.2 321L573.8 320.7L578.9 320.5L582 320.3L585 320.2L588 320.1L592.7 320L595.7 319.9L599.8 319.8L604.4 319.7L609.1 319.6L612.7 319.5L615.7 319.4L620.3 319.4L623.4 319.3L626.9 319.2L632 319.1L635.1 319.1L639.2 319L642.2 319L646.9 319L650.4 318.9L656.5 318.9"/><path d="M433.3 325.5L436.9 325.6L439.9 325.9L444.5 326.6L448.1 327.6L453.2 329.1L456.8 330.3L460.9 331.7L463.9 332.7L469 334.3L472 335.1L475.1 336L480.2 337.3L485.3 338.6L489.4 339.4L494.5 340.5L498 341.2L502.1 341.9L507.2 342.7L510.8 343.1L515.4 343.7L518.5 343.9L521.5 344L525.1 344L529.7 343.9L534.4 343.2L538.5 341.8L542.6 340.2L545.6 339L548.6 337.8L553.3 336.2L556.9 335L561.5 333.4L565.6 332.2L569.2 331.3L573.8 330.5L578.9 329.7L582 329.3L585 328.9L588 328.6L592.7 328.1L595.7 327.8L599.8 327.5L604.4 327.2L609.1 327L612.7 326.8L615.7 326.6L620.3 326.5L623.4 326.4L626.9 326.3L632 326.2L635.1 326.1L639.2 326L642.2 325.9L646.9 325.9L650.4 325.8L656.5 325.7"/><path d="M433.3 332.2L436.9 332.3L439.9 332.6L444.5 333.5L448.1 335.1L453.2 337.5L456.8 339.4L460.9 341.9L463.9 343.7L469 346.2L472 347.6L475.1 348.9L480.2 350.9L485.3 352.8L489.4 354.3L494.5 356L498 357L502.1 358L507.2 358.9L510.8 359.5L515.4 360.4L518.5 360.7L521.5 360.8L525.1 361L529.7 360.4L534.4 358.7L538.5 356.3L542.6 353.7L545.6 351.8L548.6 349.8L553.3 347.3L556.9 345.6L561.5 343.4L565.6 341.7L569.2 340.5L573.8 339.2L578.9 337.9L582 337.3L585 336.7L588 336.2L592.7 335.4L595.7 335L599.8 334.5L604.4 334.2L609.1 333.9L612.7 333.7L615.7 333.6L620.3 333.4L623.4 333.3L626.9 333.2L632 333L635.1 332.9L639.2 332.8L642.2 332.7L646.9 332.6L650.4 332.6L656.5 332.4"/><path d="M433.3 338.6L436.9 338.8L439.9 339.2L444.5 340.9L448.1 343L453.2 346.7L456.8 349.5L460.9 352.9L463.9 355.1L469 358.4L472 360.2L475.1 361.7L480.2 363.9L485.3 365.9L489.4 367.4L494.5 369L498 370L502.1 371L507.2 372.2L510.8 372.8L515.4 373.5L518.5 373.9L521.5 374.2L525.1 374.5L529.7 373.9L534.4 372.1L538.5 369.4L542.6 366.6L545.6 364.3L548.6 362L553.3 358.5L556.9 356.2L561.5 353.3L565.6 351.2L569.2 349.6L573.8 347.7L578.9 346.1L582 345.2L585 344.4L588 343.8L592.7 342.9L595.7 342.4L599.8 341.9L604.4 341.5L609.1 341.1L612.7 340.9L615.7 340.7L620.3 340.5L623.4 340.3L626.9 340.2L632 340L635.1 339.9L639.2 339.8L642.2 339.7L646.9 339.5L650.4 339.4L656.5 339.3"/></g>
<text transform="translate(421.16 288.9) scale(1.04 1)" class="trl" text-anchor="end">−1</text>
<text transform="translate(421.16 295.6) scale(1.04 1)" class="trl" text-anchor="end">−0.8</text>
<text transform="translate(421.16 302.2) scale(1.04 1)" class="trl" text-anchor="end">−0.5</text>
<text transform="translate(421.16 308.2) scale(1.04 1)" class="trl" text-anchor="end">−0.2</text>
<text transform="translate(421.16 321.6) scale(1.04 1)" class="trl" text-anchor="end">0.2</text>
<text transform="translate(421.16 327.9) scale(1.04 1)" class="trl" text-anchor="end">0.5</text>
<text transform="translate(421.16 334.6) scale(1.04 1)" class="trl" text-anchor="end">0.8</text>
<text transform="translate(421.16 341) scale(1.04 1)" class="trl" text-anchor="end">1</text>
<rect x="433.3" y="442.1" width="89.28" height="161.3" fill="#e3e3e3"/>
<path d="M406.52 603.4v-1.6M406.52 442.1v1.6M415.44 603.4v-1.6M415.44 442.1v1.6M424.37 603.4v-1.6M424.37 442.1v1.6M433.3 603.4v-3M433.3 442.1v3M442.23 603.4v-1.6M442.23 442.1v1.6M451.16 603.4v-1.6M451.16 442.1v1.6M460.08 603.4v-1.6M460.08 442.1v1.6M469.01 603.4v-1.6M469.01 442.1v1.6M477.94 603.4v-3M477.94 442.1v3M486.87 603.4v-1.6M486.87 442.1v1.6M495.8 603.4v-1.6M495.8 442.1v1.6M504.72 603.4v-1.6M504.72 442.1v1.6M513.65 603.4v-1.6M513.65 442.1v1.6M522.58 603.4v-3M522.58 442.1v3M531.51 603.4v-1.6M531.51 442.1v1.6M540.44 603.4v-1.6M540.44 442.1v1.6M549.36 603.4v-1.6M549.36 442.1v1.6M558.29 603.4v-1.6M558.29 442.1v1.6M567.22 603.4v-3M567.22 442.1v3M576.15 603.4v-1.6M576.15 442.1v1.6M585.08 603.4v-1.6M585.08 442.1v1.6M594 603.4v-1.6M594 442.1v1.6M602.93 603.4v-1.6M602.93 442.1v1.6M611.86 603.4v-3M611.86 442.1v3M620.79 603.4v-1.6M620.79 442.1v1.6M629.72 603.4v-1.6M629.72 442.1v1.6M638.64 603.4v-1.6M638.64 442.1v1.6M647.57 603.4v-1.6M647.57 442.1v1.6M656.5 603.4v-3M656.5 442.1v3M400.9 602.22h1.6M662 602.22h-1.6M400.9 597.68h1.6M662 597.68h-1.6M400.9 593.14h1.6M662 593.14h-1.6M400.9 588.6h3M662 588.6h-3M400.9 584.06h1.6M662 584.06h-1.6M400.9 579.52h1.6M662 579.52h-1.6M400.9 574.98h1.6M662 574.98h-1.6M400.9 570.44h1.6M662 570.44h-1.6M400.9 565.9h3M662 565.9h-3M400.9 561.36h1.6M662 561.36h-1.6M400.9 556.82h1.6M662 556.82h-1.6M400.9 552.28h1.6M662 552.28h-1.6M400.9 547.74h1.6M662 547.74h-1.6M400.9 543.2h3M662 543.2h-3M400.9 538.66h1.6M662 538.66h-1.6M400.9 534.12h1.6M662 534.12h-1.6M400.9 529.58h1.6M662 529.58h-1.6M400.9 525.04h1.6M662 525.04h-1.6M400.9 520.5h3M662 520.5h-3M400.9 515.96h1.6M662 515.96h-1.6M400.9 511.42h1.6M662 511.42h-1.6M400.9 506.88h1.6M662 506.88h-1.6M400.9 502.34h1.6M662 502.34h-1.6M400.9 497.8h3M662 497.8h-3M400.9 493.26h1.6M662 493.26h-1.6M400.9 488.72h1.6M662 488.72h-1.6M400.9 484.18h1.6M662 484.18h-1.6M400.9 479.64h1.6M662 479.64h-1.6M400.9 475.1h3M662 475.1h-3M400.9 470.56h1.6M662 470.56h-1.6M400.9 466.02h1.6M662 466.02h-1.6M400.9 461.48h1.6M662 461.48h-1.6M400.9 456.94h1.6M662 456.94h-1.6M400.9 452.4h3M662 452.4h-3M400.9 447.86h1.6M662 447.86h-1.6M400.9 443.32h1.6M662 443.32h-1.6" stroke="#8a8a8a" stroke-width="0.8" fill="none"/>
<rect x="400.9" y="442.1" width="261.1" height="161.3" fill="none" stroke="#9c9c9c" stroke-width="1"/>
<text x="397.2" y="592.75" class="tl" text-anchor="end">−<tspan dx="0.9">0.3</tspan></text>
<text x="397.2" y="570.05" class="tl" text-anchor="end">−<tspan dx="0.9">0.2</tspan></text>
<text x="397.2" y="547.35" class="tl" text-anchor="end">−<tspan dx="0.9">0.1</tspan></text>
<text x="397.2" y="524.65" class="tl" text-anchor="end">0</text>
<text x="397.2" y="501.95" class="tl" text-anchor="end">0.1</text>
<text x="397.2" y="479.25" class="tl" text-anchor="end">0.2</text>
<text x="397.2" y="456.55" class="tl" text-anchor="end">0.3</text>
<text x="433.3" y="617.4" class="tl" text-anchor="middle">0</text>
<text x="477.94" y="617.4" class="tl" text-anchor="middle">50</text>
<text x="522.58" y="617.4" class="tl" text-anchor="middle">100</text>
<text x="567.22" y="617.4" class="tl" text-anchor="middle">150</text>
<text x="611.86" y="617.4" class="tl" text-anchor="middle">200</text>
<text x="656.5" y="617.4" class="tl" text-anchor="middle">250</text>
<text x="531.8" y="637.4" class="al" text-anchor="middle">time (ms)</text>
<text transform="translate(366.3 522.75) rotate(-90)" class="yl" text-anchor="middle">response (mV)</text>
<text x="653.5" y="595.1" class="td" text-anchor="end">1 Td</text>
<g fill="none" stroke="#ff0000" stroke-width="2" stroke-linejoin="round"><path d="M422.8 494.5L433.9 494.5L438.4 494.3L440.6 493.8L444.2 492.6L446 491.8L448.7 490.3L452.2 488L457.6 484L470.5 473.7L475.4 470.1L478.6 468.1L481.7 466.2L485.3 464.2L488.8 462.3L492.8 460.6L497.3 458.9L501.8 457.5L506.7 456.2L510.3 455.4L514.7 454.6L523.2 453.4L525.9 453.2L528.6 453.3L531.7 453.6L533.5 454.1L535.3 455L538.4 456.7L540.6 458.1L547.3 463.1L554.9 468.8L560.3 472.5L565.2 475.5L571 478.8L576.3 481.4L583.5 484.6L588.4 486.4L594.2 487.9L600.4 489.3L607.6 490.5L614.7 491.4L621.9 492L632.6 492.7L643.7 493.2L656.2 493.7"/><path d="M422.8 500.8L433.9 500.8L437.9 500.6L441.1 500.2L443.7 499.6L445.1 499.2L447.3 498.4L449.5 497.5L453.1 495.5L459.4 491.7L472.3 482.9L476.8 480.3L482.1 477.5L485.7 475.9L488.8 474.6L492.4 473.4L497.3 472L501.8 470.9L506.7 470L511.2 469.4L516.5 468.8L522.3 468.4L525.9 468.3L528.6 468.4L531.7 468.9L537 470.1L538.8 470.7L540.2 471.4L542 472.5L554.9 481.2L559.4 483.8L563.4 486L569.2 488.7L574.5 490.9L579.5 492.5L584.8 493.9L590.6 495.1L597.3 496.2L606.2 497.3L614.7 498.1L621.9 498.7L637.5 499.5L647.3 499.8L656.2 500"/><path d="M422.8 507.1L433.9 507.1L438.4 507L443.3 506.5L446.9 505.9L449.1 505.4L451.3 504.7L465.2 498.9L479 493.7L482.6 492.5L486.6 491.4L497.8 489L500.9 488.4L505.3 487.8L509.4 487.4L517.4 486.7L521.9 486.5L525.9 486.4L528.1 486.5L530.3 486.8L533 487.3L537.5 488.4L540.6 489.4L554 494.4L562 497L568.3 498.7L573.6 500.1L577.2 500.8L582.1 501.6L589.3 502.6L596.4 503.4L605.8 504.3L614.7 505L621.9 505.4L637.5 506L647.3 506.3L656.2 506.5"/><path d="M422.8 514L435.3 514L445.1 513.4L450.4 512.9L458 511.9L482.1 508.3L490.6 507.2L498.2 506.6L506.2 506.1L519.2 505.5L525.9 505.3L530.8 505.5L538.4 506.2L542.8 506.8L553.1 508.5L560.3 509.5L570.5 510.7L579 511.4L593.7 512.2L616.5 512.9L637.9 513.5L656.2 513.8"/><path d="M422.8 526.9L435.3 526.9L444.2 527.3L449.5 527.9L472.8 530.9L488.4 532.5L497.3 533.2L506.7 533.8L520.1 534.6L526.3 534.7L530.8 534.5L538.8 533.8L542.8 533.3L553.6 531.6L565.6 530.3L575.9 529.3L590.2 528.3L599.5 527.8L624.5 527L641.1 526.6L656.2 526.5"/><path d="M422.8 533.3L435.7 533.4L440.6 533.7L445.5 534.5L450.4 535.6L455.8 537.2L458.5 538.2L465.2 541L474.1 544L480.4 545.9L491.1 548.8L498.7 550.4L508 552L516.5 552.8L522.3 553.1L525 553L529.5 552.4L532.6 551.8L537.5 550.5L541.5 549.4L546.4 547.8L559.8 542.8L565.6 540.9L570.1 539.7L574.1 538.8L577.2 538.3L583 537.4L589.7 536.5L596 535.8L602.2 535.4L610.7 534.9L620.1 534.5L634.8 534.1L656.2 533.7"/><path d="M422.8 539.6L433.9 539.6L437.9 539.8L440.6 540.2L444.6 541.1L446.9 541.9L449.5 543L454.5 545.5L458.9 548L471.4 555.7L474.5 557.4L480.4 560.1L487 562.9L490.6 564.3L494.2 565.5L498.2 566.6L505.3 568.3L509.4 569.2L515.6 570.2L519.2 570.7L522.3 570.9L527.7 571L529.9 570.9L532.1 570.5L535.3 569.6L538.4 568.5L540.6 567.3L545.5 564L554 558.7L558 556.4L562.5 554.2L569.2 551.1L574.5 549L580.3 547L585.7 545.6L590.2 544.7L596 543.9L605.3 542.9L614.7 542.1L621.9 541.6L637.5 540.9L647.3 540.6L656.2 540.4"/><path d="M422.8 545.9L433.9 545.9L437.9 546.1L441.1 546.5L444.2 547.4L446 548.2L450.4 550.8L455.4 554L458 555.9L464.7 561.4L469.2 564.6L473.2 567.4L480.4 571.8L483 573.3L485.7 574.6L490.2 576.6L498.2 580L501.3 581.1L505.8 582.4L509.8 583.4L515.2 584.5L523.7 585.7L526.3 585.9L529.9 585.8L530.8 585.7L532.6 585.1L534.4 584.2L537.5 582.5L539.3 581.4L553.6 570.3L557.1 567.9L561.6 565.2L569.2 561L575 558L580.8 555.6L586.6 553.6L592.4 552.1L597.8 551L604.4 550L612 549.2L619.6 548.5L628.1 548L656.2 546.8"/></g>
<g fill="none" stroke="none" marker-start="url(#c)" marker-mid="url(#c)" marker-end="url(#c)"><path d="M433.3 494.5L437.9 494.3L441 493.7L446.1 491.7L449.6 489.7L453.7 486.9L458.8 483.1L462.9 480.3L466 478.4L469 476.5L473.1 473.8L476.7 471.5L481.3 468.7L484.4 467L489.5 464.5L493.6 462.8L497.7 461.3L500.7 460.3L505.8 458.8L508.8 458.1L512.4 457.4L515.4 456.9L520.1 456.2L525.2 455.4L529.8 455.1L532.8 455.2L536.4 456.4L541.1 458L544.1 459.4L547.7 461.4L552.3 464.3L557 467.1L561.1 469.4L565.7 471.8L569.8 473.8L573.4 475.3L578.5 477.3L581.5 478.6L585.6 480.1L590.3 481.6L593.8 482.5L597.4 483.3L602 484.4L605.6 485.1L608.6 485.8L612.2 486.4L616.9 487.1L621 487.7L624.5 488.2L629.6 488.8L634.7 489.4L638.3 489.7L643.4 490.2L647.5 490.5L650.5 490.7L656.5 491.1"/><path d="M433.3 500.8L437.9 500.6L441 500.2L446.1 498.9L449.6 497.4L453.7 495.2L458.8 492.1L462.9 489.8L466 488.2L469 486.5L473.1 484.1L476.7 482.1L481.3 479.7L484.4 478.4L489.5 476.3L493.6 475L497.7 473.8L500.7 473.1L505.8 472.1L508.8 471.6L512.4 471.1L515.4 470.7L520.1 470.4L525.2 470L529.8 469.9L532.8 470.1L536.4 470.5L541.1 471.6L544.1 472.9L547.7 474.7L552.3 477.5L557 480L561.1 482L565.7 484L569.8 485.5L573.4 486.7L578.5 488.2L581.5 489L585.6 490L590.3 490.9L593.8 491.5L597.4 492.1L602 492.7L605.6 493.3L608.6 493.7L612.2 494.2L616.9 494.8L621 495.3L624.5 495.6L629.6 496.1L634.7 496.6L638.3 496.9L643.4 497.3L647.5 497.6L650.5 497.7L656.5 498"/><path d="M433.3 507.1L437.9 507L441 506.8L446.1 506.1L449.6 505.3L453.7 503.7L458.8 501.7L462.9 500.2L466 499.2L469 498.3L473.1 497L476.7 495.7L481.3 494.1L484.4 493.2L489.5 492L493.6 491.1L497.7 490.2L500.7 489.7L505.8 489L508.8 488.6L512.4 488.3L515.4 488.1L520.1 487.7L525.2 487.5L529.8 487.6L532.8 487.9L536.4 488.5L541.1 489.3L544.1 490.1L547.7 491.1L552.3 492.5L557 493.8L561.1 494.9L565.7 496L569.8 496.9L573.4 497.7L578.5 498.5L581.5 498.9L585.6 499.5L590.3 500.1L593.8 500.5L597.4 500.9L602 501.4L605.6 501.8L608.6 502.1L612.2 502.4L616.9 502.9L621 503.2L624.5 503.5L629.6 503.8L634.7 504.2L638.3 504.4L643.4 504.7L647.5 504.9L650.5 505L656.5 505.2"/><path d="M433.3 514L437.9 513.9L441 513.7L446.1 513.3L449.6 512.9L453.7 512.5L458.8 511.9L462.9 511.4L466 511L469 510.6L473.1 510.1L476.7 509.6L481.3 508.9L484.4 508.5L489.5 507.9L493.6 507.5L497.7 507.2L500.7 507L505.8 506.6L508.8 506.5L512.4 506.3L515.4 506.1L520.1 505.9L525.2 505.8L529.8 505.8L532.8 505.9L536.4 506.1L541.1 506.4L544.1 506.7L547.7 507.2L552.3 507.8L557 508.4L561.1 508.8L565.7 509.3L569.8 509.7L573.4 510L578.5 510.3L581.5 510.5L585.6 510.7L590.3 510.9L593.8 511L597.4 511.2L602 511.4L605.6 511.5L608.6 511.7L612.2 511.8L616.9 512L621 512.2L624.5 512.3L629.6 512.5L634.7 512.7L638.3 512.8L643.4 513L647.5 513.1L650.5 513.1L656.5 513.3"/><path d="M433.3 526.9L437.9 527L441 527.1L446.1 527.5L449.6 527.9L453.7 528.4L458.8 529L462.9 529.5L466 529.8L469 530.1L473.1 530.5L476.7 530.9L481.3 531.4L484.4 531.7L489.5 532.1L493.6 532.5L497.7 532.8L500.7 533L505.8 533.3L508.8 533.5L512.4 533.7L515.4 533.9L520.1 534.1L525.2 534.3L529.8 534.3L532.8 534.1L536.4 533.9L541.1 533.6L544.1 533.3L547.7 532.9L552.3 532.3L557 531.8L561.1 531.4L565.7 531L569.8 530.7L573.4 530.4L578.5 530.1L581.5 529.9L585.6 529.6L590.3 529.3L593.8 529.1L597.4 528.9L602 528.7L605.6 528.6L608.6 528.4L612.2 528.3L616.9 528.1L621 527.9L624.5 527.8L629.6 527.6L634.7 527.4L638.3 527.3L643.4 527.2L647.5 527.1L650.5 527.1L656.5 527"/><path d="M433.3 533.3L437.9 533.5L441 533.8L446.1 534.6L449.6 535.4L453.7 536.6L458.8 538.3L462.9 539.8L466 540.7L469 541.5L473.1 542.7L476.7 543.8L481.3 545L484.4 545.8L489.5 547.2L493.6 548.2L497.7 549L500.7 549.6L505.8 550.4L508.8 550.9L512.4 551.3L515.4 551.6L520.1 551.9L525.2 551.9L529.8 551.5L532.8 551.1L536.4 550.4L541.1 549.7L544.1 549.2L547.7 548.3L552.3 546.8L557 545.4L561.1 544.1L565.7 542.8L569.8 541.9L573.4 541.2L578.5 540.5L581.5 540.1L585.6 539.5L590.3 539L593.8 538.6L597.4 538.3L602 537.9L605.6 537.6L608.6 537.3L612.2 537.1L616.9 536.7L621 536.5L624.5 536.3L629.6 536L634.7 535.7L638.3 535.6L643.4 535.3L647.5 535.2L650.5 535.1L656.5 534.9"/><path d="M433.3 539.6L437.9 539.8L441 540.2L446.1 541.6L449.6 543L453.7 545.1L458.8 547.8L462.9 549.9L466 551.4L469 552.9L473.1 555.1L476.7 556.8L481.3 558.7L484.4 560L489.5 562L493.6 563.4L497.7 564.6L500.7 565.3L505.8 566.6L508.8 567.2L512.4 567.9L515.4 568.4L520.1 569L525.2 569.3L529.8 569.6L532.8 569.3L536.4 568.7L541.1 567.3L544.1 565.9L547.7 564.1L552.3 561.7L557 559.4L561.1 557.6L565.7 555.7L569.8 554.2L573.4 553L578.5 551.5L581.5 550.6L585.6 549.6L590.3 548.7L593.8 548.2L597.4 547.7L602 547.1L605.6 546.7L608.6 546.3L612.2 545.9L616.9 545.3L621 544.9L624.5 544.6L629.6 544.1L634.7 543.7L638.3 543.4L643.4 543L647.5 542.8L650.5 542.6L656.5 542.3"/><path d="M433.3 545.9L437.9 546.1L441 546.5L446.1 548.3L449.6 550.4L453.7 552.9L458.8 556.4L462.9 559.3L466 561.2L469 562.9L473.1 565.3L476.7 567.5L481.3 570.2L484.4 571.7L489.5 573.9L493.6 575.7L497.7 577.4L500.7 578.5L505.8 580.1L508.8 580.9L512.4 581.6L515.4 582.2L520.1 583L525.2 583.8L529.8 584.1L532.8 583.7L536.4 582.4L541.1 580.5L544.1 578.9L547.7 576.7L552.3 573.8L557 571.1L561.1 568.9L565.7 566.7L569.8 564.9L573.4 563.3L578.5 561.5L581.5 560.4L585.6 559L590.3 557.8L593.8 557L597.4 556.2L602 555.4L605.6 554.7L608.6 554.3L612.2 553.7L616.9 553.1L621 552.5L624.5 552.1L629.6 551.5L634.7 551L638.3 550.7L643.4 550.2L647.5 549.9L650.5 549.7L656.5 549.2"/></g>
<text transform="translate(421.16 496.9) scale(1.04 1)" class="trl" text-anchor="end">−1</text>
<text transform="translate(421.16 503.2) scale(1.04 1)" class="trl" text-anchor="end">−0.8</text>
<text transform="translate(421.16 509.5) scale(1.04 1)" class="trl" text-anchor="end">−0.5</text>
<text transform="translate(421.16 516.4) scale(1.04 1)" class="trl" text-anchor="end">−0.2</text>
<text transform="translate(421.16 529.3) scale(1.04 1)" class="trl" text-anchor="end">0.2</text>
<text transform="translate(421.16 535.7) scale(1.04 1)" class="trl" text-anchor="end">0.5</text>
<text transform="translate(421.16 542) scale(1.04 1)" class="trl" text-anchor="end">0.8</text>
<text transform="translate(421.16 548.3) scale(1.04 1)" class="trl" text-anchor="end">1</text>
<text x="88" y="15.6" class="ti" text-anchor="middle">10 ms</text>
<text x="478" y="15.4" class="ti" text-anchor="middle">100 ms</text>
</svg>
</body></html>
